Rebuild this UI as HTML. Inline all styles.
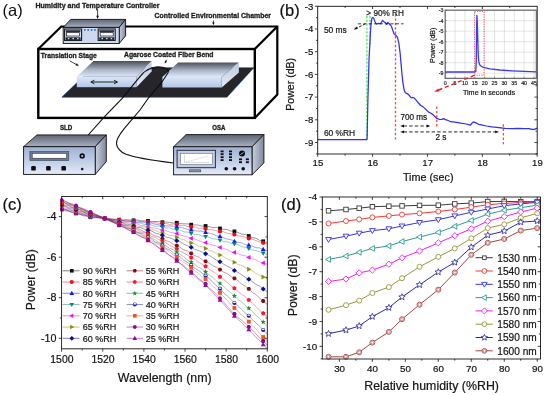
<!DOCTYPE html>
<html lang="en">
<head>
<meta charset="utf-8">
<title>Humidity sensor figure</title>
<style>
html,body{margin:0;padding:0;background:#fff;}
body{width:550px;height:395px;overflow:hidden;font-family:"Liberation Sans", sans-serif;}
svg{display:block;}
svg text{font-family:"Liberation Sans", sans-serif;}
#panel-b text,#panel-c text,#panel-d text{stroke:#141414;stroke-width:0.2px;}
</style>
</head>
<body>
<svg width="550" height="395" viewBox="0 0 550 395">
<defs>
<filter id="soft" x="0" y="0" width="550" height="395" filterUnits="userSpaceOnUse"><feGaussianBlur stdDeviation="0.42"/></filter>
<linearGradient id="gTop" x1="0" y1="0" x2="0" y2="1"><stop offset="0" stop-color="#5d6373"/><stop offset="1" stop-color="#a9b1c3"/></linearGradient>
<linearGradient id="gFront" x1="0" y1="0" x2="0" y2="1"><stop offset="0" stop-color="#9fb0d2"/><stop offset="1" stop-color="#e3eafa"/></linearGradient>
<linearGradient id="gSide" x1="0" y1="0" x2="1" y2="0"><stop offset="0" stop-color="#c9d0e0"/><stop offset="1" stop-color="#7f8799"/></linearGradient>
<linearGradient id="gStageTop" x1="0" y1="0" x2="0" y2="1"><stop offset="0" stop-color="#4a4e58"/><stop offset="0.55" stop-color="#aab4c8"/><stop offset="1" stop-color="#dfe8f8"/></linearGradient>
<linearGradient id="gStageFront" x1="0" y1="0" x2="0" y2="1"><stop offset="0" stop-color="#dbe6fa"/><stop offset="1" stop-color="#b4c6e6"/></linearGradient>
<linearGradient id="gStageSide" x1="0" y1="0" x2="0" y2="1"><stop offset="0" stop-color="#bcc6dc"/><stop offset="1" stop-color="#e4ebfa"/></linearGradient>
</defs>
<rect x="0" y="0" width="550" height="395" fill="#ffffff"/>
<g filter="url(#soft)">
<g id="panel-a">
<text x="2.5" y="16" font-size="16.5" fill="#111">(a)</text>
<polyline points="38.3,49 61.3,26.5 277.3,26.5 277.3,94.6 254.8,117.9" fill="none" stroke="#000" stroke-width="2.2" stroke-linejoin="miter"/>
<line x1="254.8" y1="49" x2="277.3" y2="26.5" stroke="#000" stroke-width="2.2"/>
<polygon points="63.2,27.4 70.8,19.4 125.6,19.4 119.2,27.4" fill="url(#gTop)" stroke="#111" stroke-width="0.9"/>
<polygon points="119.2,27.4 125.6,19.4 125.6,35.8 119.2,43.5" fill="url(#gSide)" stroke="#111" stroke-width="0.9"/>
<rect x="63.2" y="27.4" width="56" height="16.1" fill="#cfd9ee" stroke="#111" stroke-width="0.9"/>
<rect x="64.6" y="29" width="17" height="11.4" fill="#d9e1f2" stroke="#15171c" stroke-width="1.1"/>
<rect x="65.8" y="30.2" width="14.6" height="2" fill="#2a2d35" stroke="none" stroke-width="1"/>
<rect x="66.6" y="32.7" width="13" height="3.3" fill="#ffffff" stroke="#15171c" stroke-width="0.7"/>
<rect x="65.6" y="37.3" width="15" height="2.6" fill="#1b1d23" stroke="none" stroke-width="1"/>
<rect x="67.8" y="37.9" width="1.6" height="1.3" fill="#cfd6e6" stroke="none" stroke-width="1"/>
<rect x="72.4" y="37.9" width="1.6" height="1.3" fill="#cfd6e6" stroke="none" stroke-width="1"/>
<rect x="77" y="37.9" width="1.6" height="1.3" fill="#cfd6e6" stroke="none" stroke-width="1"/>
<rect x="98.2" y="29" width="17" height="11.4" fill="#d9e1f2" stroke="#15171c" stroke-width="1.1"/>
<rect x="99.4" y="30.2" width="14.6" height="2" fill="#2a2d35" stroke="none" stroke-width="1"/>
<rect x="100.2" y="32.7" width="13" height="3.3" fill="#ffffff" stroke="#15171c" stroke-width="0.7"/>
<rect x="99.2" y="37.3" width="15" height="2.6" fill="#1b1d23" stroke="none" stroke-width="1"/>
<rect x="101.4" y="37.9" width="1.6" height="1.3" fill="#cfd6e6" stroke="none" stroke-width="1"/>
<rect x="106" y="37.9" width="1.6" height="1.3" fill="#cfd6e6" stroke="none" stroke-width="1"/>
<rect x="110.6" y="37.9" width="1.6" height="1.3" fill="#cfd6e6" stroke="none" stroke-width="1"/>
<rect x="84.1" y="29" width="1.5" height="1.9" fill="#2f6fc0" stroke="none" stroke-width="1"/>
<rect x="87.45" y="29" width="1.5" height="1.9" fill="#2f6fc0" stroke="none" stroke-width="1"/>
<rect x="90.8" y="29" width="1.5" height="1.9" fill="#2f6fc0" stroke="none" stroke-width="1"/>
<rect x="94.15" y="29" width="1.5" height="1.9" fill="#2f6fc0" stroke="none" stroke-width="1"/>
<text x="35.5" y="7.5" font-size="6.9" font-weight="bold" fill="#1c1c1c" textLength="124" lengthAdjust="spacingAndGlyphs" stroke="#1c1c1c" stroke-width="0.3">Humidity and Temperature Controller</text>
<line x1="97.6" y1="9.4" x2="97.6" y2="17" stroke="#111" stroke-width="0.8"/>
<polygon points="97.6,19 96.3,15.8 98.9,15.8" fill="#111" stroke="none" stroke-width="1"/>
<text x="154.6" y="17.7" font-size="6.9" font-weight="bold" fill="#1c1c1c" textLength="116.4" lengthAdjust="spacingAndGlyphs" stroke="#1c1c1c" stroke-width="0.3">Controlled Environmental Chamber</text>
<line x1="213.4" y1="20.6" x2="213.4" y2="23.4" stroke="#111" stroke-width="0.8"/>
<polygon points="213.4,25.3 212.2,22.5 214.6,22.5" fill="#111" stroke="none" stroke-width="1"/>
<polygon points="61.9,97.2 92.5,67.7 253.9,67.7 227,97.2" fill="#26282c" stroke="#2c5c9c" stroke-width="0.7"/>
<polygon points="62.6,96.6 92.8,68.3 252.8,68.3 226.6,96.6" fill="#25272b" stroke="none" stroke-width="1"/>
<polygon points="162.4,76.9 178.2,62.4 238.9,62.4 221.7,76.9" fill="url(#gStageTop)" stroke="none" stroke-width="1"/>
<polygon points="221.7,76.9 238.9,62.4 238.9,72.6 221.7,87.5" fill="url(#gStageSide)" stroke="none" stroke-width="1"/>
<rect x="162.4" y="76.9" width="59.3" height="10.6" fill="url(#gStageFront)" stroke="none" stroke-width="1"/>
<polygon points="76.8,76.7 93.4,61.1 151.6,61.1 136.4,76.7" fill="url(#gStageTop)" stroke="none" stroke-width="1"/>
<polygon points="136.4,76.7 151.6,61.1 151.6,71.5 136.4,87.2" fill="url(#gStageSide)" stroke="none" stroke-width="1"/>
<rect x="76.8" y="76.7" width="59.6" height="10.5" fill="url(#gStageFront)" stroke="none" stroke-width="1"/>
<line x1="91.4" y1="82" x2="117" y2="82" stroke="#111" stroke-width="0.9"/>
<polyline points="94.4,80.2 90.8,82 94.4,83.8" fill="none" stroke="#111" stroke-width="0.9"/>
<polyline points="114,80.2 117.6,82 114,83.8" fill="none" stroke="#111" stroke-width="0.9"/>
<path d="M 88.2,135 L 105.3,115.9 L 122.2,98.4 L 135.4,82.1 L 140.8,75.6 C 144.5,71.4 147.6,69.6 150.6,68.6 C 155,67.0 162,67.0 166.4,68.8 C 168.4,69.9 168.7,71.4 167.9,73 L 161.8,82.2 L 148.8,97.5 L 140,110 L 124.4,128.3 C 119,135 116,140.5 116.5,143.8 C 117.2,149 121.5,152.3 126,154.3 C 135.5,157.8 152,160.4 173.4,163" fill="none" stroke="#0c0c0c" stroke-width="1.1" stroke-linejoin="round"/>
<path d="M 150.4,68.6 C 155,66.9 162,66.9 166.6,68.9" fill="none" stroke="#1c1d20" stroke-width="1.5"/>
<rect x="38.3" y="49" width="216.5" height="68.9" fill="none" stroke="#000" stroke-width="2.4"/>
<text x="40.8" y="57.6" font-size="6.9" font-weight="bold" fill="#1c1c1c" textLength="56" lengthAdjust="spacingAndGlyphs" stroke="#1c1c1c" stroke-width="0.3">Translation Stage</text>
<line x1="69.6" y1="60.8" x2="76.6" y2="64.6" stroke="#111" stroke-width="0.8"/>
<polygon points="79,65.8 75.56,65.44 76.79,63.15" fill="#111" stroke="none" stroke-width="1"/>
<text x="124" y="57.4" font-size="6.9" font-weight="bold" fill="#1c1c1c" textLength="89.5" lengthAdjust="spacingAndGlyphs" stroke="#1c1c1c" stroke-width="0.3">Agarose Coated Fiber Bend</text>
<line x1="166.8" y1="59.8" x2="165.4" y2="62" stroke="#111" stroke-width="0.8"/>
<polygon points="164.7,63.4 164.97,60.55 167.05,61.76" fill="#111" stroke="none" stroke-width="1"/>
<polygon points="23.6,146.7 37,134.9 106.3,134.9 95.2,146.7" fill="url(#gTop)" stroke="#111" stroke-width="0.9"/>
<polygon points="95.2,146.7 106.3,134.9 106.3,161.6 95.2,174.4" fill="url(#gSide)" stroke="#111" stroke-width="0.9"/>
<rect x="23.6" y="146.7" width="71.6" height="27.7" fill="url(#gFront)" stroke="#111" stroke-width="0.9"/>
<rect x="29.9" y="151.5" width="38.9" height="9" fill="#6f7a92" stroke="#3d4456" stroke-width="0.6"/>
<rect x="32.2" y="153.4" width="34.3" height="4.8" fill="#ffffff" stroke="#222" stroke-width="0.5"/>
<rect x="31.2" y="166" width="4.6" height="4.6" fill="#0e0e10" stroke="none" stroke-width="0" rx="1.2"/>
<rect x="46.1" y="166" width="4.6" height="4.6" fill="#0e0e10" stroke="none" stroke-width="0" rx="1.2"/>
<rect x="61.4" y="166" width="4.6" height="4.6" fill="#0e0e10" stroke="none" stroke-width="0" rx="1.2"/>
<circle cx="82.2" cy="155.9" r="2.7" fill="#111" stroke="none" stroke-width="1"/>
<circle cx="82.2" cy="155.9" r="1" fill="#c9d2e6" stroke="none" stroke-width="1"/>
<circle cx="82.2" cy="169.1" r="1.3" fill="#16161a" stroke="none" stroke-width="1"/>
<text x="59.9" y="129.9" font-size="6.9" font-weight="bold" fill="#1c1c1c" textLength="12.4" lengthAdjust="spacingAndGlyphs" stroke="#1c1c1c" stroke-width="0.3">SLD</text>
<polygon points="173.6,146.8 186.1,134.6 263.9,134.6 252,146.8" fill="url(#gTop)" stroke="#111" stroke-width="0.9"/>
<polygon points="252,146.8 263.9,134.6 263.9,162.9 252,174.8" fill="url(#gSide)" stroke="#111" stroke-width="0.9"/>
<rect x="173.6" y="146.8" width="78.4" height="28" fill="url(#gFront)" stroke="#111" stroke-width="0.9"/>
<rect x="177.1" y="150.3" width="38.3" height="17.4" fill="#c3cce0" stroke="#2a2e3a" stroke-width="1"/>
<rect x="180.5" y="153.5" width="31.8" height="10.8" fill="#ffffff" stroke="#555c6e" stroke-width="0.5"/>
<polyline points="184.5,162.5 184.5,155" fill="none" stroke="#9aa3b5" stroke-width="0.4"/>
<polyline points="184.5,162.5 209,162.5" fill="none" stroke="#9aa3b5" stroke-width="0.4"/>
<polyline points="186,161.8 192,160.6 198,158.8 204,157.2 208.5,155.8" fill="none" stroke="#8d97ab" stroke-width="0.5" stroke-dasharray="1 0.8"/>
<rect x="189.3" y="169.8" width="11.5" height="2.1" fill="#8a93a6" stroke="#30343f" stroke-width="0.5"/>
<rect x="220.6" y="150.5" width="3" height="1.8" fill="#0e0e10" stroke="none" stroke-width="1"/>
<rect x="220.6" y="153.3" width="3" height="1.8" fill="#0e0e10" stroke="none" stroke-width="1"/>
<rect x="220.6" y="156.3" width="3" height="1.8" fill="#0e0e10" stroke="none" stroke-width="1"/>
<rect x="220.6" y="159.2" width="3" height="1.8" fill="#0e0e10" stroke="none" stroke-width="1"/>
<rect x="229" y="150.5" width="3" height="1.8" fill="#0e0e10" stroke="none" stroke-width="1"/>
<rect x="229" y="153.3" width="3" height="1.8" fill="#0e0e10" stroke="none" stroke-width="1"/>
<rect x="229" y="156.3" width="3" height="1.8" fill="#0e0e10" stroke="none" stroke-width="1"/>
<rect x="229" y="159.2" width="3" height="1.8" fill="#0e0e10" stroke="none" stroke-width="1"/>
<rect x="239" y="158.4" width="3" height="1.8" fill="#0e0e10" stroke="none" stroke-width="1"/>
<rect x="239" y="161.3" width="3" height="1.8" fill="#0e0e10" stroke="none" stroke-width="1"/>
<rect x="245.9" y="158.4" width="3" height="1.8" fill="#0e0e10" stroke="none" stroke-width="1"/>
<rect x="245.9" y="161.3" width="3" height="1.8" fill="#0e0e10" stroke="none" stroke-width="1"/>
<circle cx="242" cy="153.5" r="3" fill="#0e0e10" stroke="none" stroke-width="1"/>
<path d="M 240.4,154.6 L 243.6,152.4" fill="none" stroke="#d5dcec" stroke-width="0.8"/>
<circle cx="226.3" cy="168.7" r="1.8" fill="#0e0e10" stroke="none" stroke-width="1"/>
<circle cx="234.6" cy="168.7" r="1.8" fill="#0e0e10" stroke="none" stroke-width="1"/>
<circle cx="243.2" cy="168.7" r="1.8" fill="#0e0e10" stroke="none" stroke-width="1"/>
<text x="212.3" y="130" font-size="6.9" font-weight="bold" fill="#1c1c1c" textLength="13.1" lengthAdjust="spacingAndGlyphs" stroke="#1c1c1c" stroke-width="0.3">OSA</text>
</g>
<g id="panel-b">
<text x="279.6" y="15.8" font-size="16.5" fill="#111">(b)</text>
<line x1="366.8" y1="16" x2="366.8" y2="139.5" stroke="#78f078" stroke-width="1.8" stroke-dasharray="2.2 1.6"/>
<line x1="369.9" y1="16" x2="369.9" y2="46" stroke="#78f078" stroke-width="1.8" stroke-dasharray="2.2 1.6"/>
<line x1="395.5" y1="14" x2="395.5" y2="141" stroke="#f24848" stroke-width="1.3" stroke-dasharray="2.4 2"/>
<line x1="436.8" y1="106.5" x2="436.8" y2="128.5" stroke="#f24848" stroke-width="1.3" stroke-dasharray="2.4 2"/>
<line x1="503.4" y1="124.3" x2="503.4" y2="146" stroke="#f24848" stroke-width="1.3" stroke-dasharray="2.4 2"/>
<polyline points="317.7,139.5 366.6,139.5 367.1,139 367.9,100 369,60 370.2,37 371,24 371.8,18.6 372.8,17.3 373.8,18.4 375,21.8 376.3,24 377.3,23.8 378.2,23.4 379.4,23.7 380.5,23.6 381.2,22.6 382.6,20.4 383.5,21.4 384.5,22.1 385.4,22.6 386.1,23.4 386.8,24.3 387.7,22.5 388.6,23.3 389.6,24.2 390.6,25.2 391.5,26.5 392.8,30.4 394.1,34 395.2,34.8 396,35.3 397.5,37.4 398.8,43.1 400.1,52.9 401,63.1 401.9,73.3 402.9,82.6 404.2,90.3 405.4,92.8 408,94.1 409.6,95.8 411.2,97.9 412.6,97.5 414.1,97.9 416.9,101.1 420.7,105.5 422.8,106.6 424.5,108.1 428.3,111.9 431,113.2 433.4,115.1 436.6,118.3 439.8,119.5 441.8,119.3 443.6,118.6 445.4,119.6 447.4,120.2 450.7,121.7 455,122.1 460.9,123.2 466,124 470.6,125.2 471.6,123.4 473.4,121.9 475.4,122.6 478.7,124.3 482.5,125.2 486.3,126 492,126.9 499,127.6 505,128.3 511.8,128.7 518,128.4 524.5,128.7 529,128.6 532.1,129.4 534.5,129.3 537.2,128.2" fill="none" stroke="#3030f0" stroke-width="1.25" stroke-linejoin="round"/>
<line x1="357.9" y1="23.8" x2="403.6" y2="23.8" stroke="#111" stroke-width="0.8" stroke-dasharray="3.2 2.2"/>
<line x1="365.4" y1="23.8" x2="357" y2="28" stroke="#111" stroke-width="0.9" stroke-dasharray="2.8 1.5"/>
<polygon points="353.8,29.5 356.59,26.57 357.83,29.08" fill="#111" stroke="none" stroke-width="1"/>
<line x1="403.6" y1="126" x2="427" y2="126" stroke="#111" stroke-width="0.9" stroke-dasharray="3.4 2.2"/>
<polygon points="400.2,126 404,124.6 404,127.4" fill="#111" stroke="none" stroke-width="1"/>
<polygon points="430.4,126 426.6,127.4 426.6,124.6" fill="#111" stroke="none" stroke-width="1"/>
<line x1="403.6" y1="131.9" x2="495.6" y2="131.9" stroke="#111" stroke-width="0.9" stroke-dasharray="3.4 2.2"/>
<polygon points="400.2,131.9 404,130.5 404,133.3" fill="#111" stroke="none" stroke-width="1"/>
<polygon points="499,131.9 495.2,133.3 495.2,130.5" fill="#111" stroke="none" stroke-width="1"/>
<text x="366.3" y="15.8" font-size="8.3" fill="#141414" textLength="37.7" lengthAdjust="spacingAndGlyphs">&gt; 90% RH</text>
<text x="323.9" y="32.6" font-size="8.4" fill="#141414" textLength="22.9" lengthAdjust="spacingAndGlyphs">50 ms</text>
<text x="323.9" y="135.7" font-size="8.4" fill="#141414" textLength="31.3" lengthAdjust="spacingAndGlyphs">60 %RH</text>
<text x="400.4" y="120.3" font-size="8.4" fill="#141414" textLength="26.8" lengthAdjust="spacingAndGlyphs">700 ms</text>
<text x="435.4" y="140.3" font-size="8.4" fill="#141414" textLength="11" lengthAdjust="spacingAndGlyphs">2 s</text>
<rect x="317.7" y="6.3" width="219.5" height="147.7" fill="none" stroke="#161616" stroke-width="0.9"/>
<line x1="317.7" y1="6.3" x2="314.9" y2="6.3" stroke="#161616" stroke-width="0.8"/>
<text x="313.4" y="9.6" font-size="9.6" text-anchor="end" fill="#141414">-3</text>
<line x1="317.7" y1="17.65" x2="316" y2="17.65" stroke="#161616" stroke-width="0.8"/>
<line x1="537.2" y1="17.65" x2="535.5" y2="17.65" stroke="#161616" stroke-width="0.8"/>
<line x1="317.7" y1="29" x2="314.9" y2="29" stroke="#161616" stroke-width="0.8"/>
<line x1="537.2" y1="29" x2="534.4" y2="29" stroke="#161616" stroke-width="0.8"/>
<text x="313.4" y="32.3" font-size="9.6" text-anchor="end" fill="#141414">-4</text>
<line x1="317.7" y1="40.35" x2="316" y2="40.35" stroke="#161616" stroke-width="0.8"/>
<line x1="537.2" y1="40.35" x2="535.5" y2="40.35" stroke="#161616" stroke-width="0.8"/>
<line x1="317.7" y1="51.7" x2="314.9" y2="51.7" stroke="#161616" stroke-width="0.8"/>
<line x1="537.2" y1="51.7" x2="534.4" y2="51.7" stroke="#161616" stroke-width="0.8"/>
<text x="313.4" y="55" font-size="9.6" text-anchor="end" fill="#141414">-5</text>
<line x1="317.7" y1="63.05" x2="316" y2="63.05" stroke="#161616" stroke-width="0.8"/>
<line x1="537.2" y1="63.05" x2="535.5" y2="63.05" stroke="#161616" stroke-width="0.8"/>
<line x1="317.7" y1="74.4" x2="314.9" y2="74.4" stroke="#161616" stroke-width="0.8"/>
<line x1="537.2" y1="74.4" x2="534.4" y2="74.4" stroke="#161616" stroke-width="0.8"/>
<text x="313.4" y="77.7" font-size="9.6" text-anchor="end" fill="#141414">-6</text>
<line x1="317.7" y1="85.75" x2="316" y2="85.75" stroke="#161616" stroke-width="0.8"/>
<line x1="537.2" y1="85.75" x2="535.5" y2="85.75" stroke="#161616" stroke-width="0.8"/>
<line x1="317.7" y1="97.1" x2="314.9" y2="97.1" stroke="#161616" stroke-width="0.8"/>
<line x1="537.2" y1="97.1" x2="534.4" y2="97.1" stroke="#161616" stroke-width="0.8"/>
<text x="313.4" y="100.4" font-size="9.6" text-anchor="end" fill="#141414">-7</text>
<line x1="317.7" y1="108.45" x2="316" y2="108.45" stroke="#161616" stroke-width="0.8"/>
<line x1="537.2" y1="108.45" x2="535.5" y2="108.45" stroke="#161616" stroke-width="0.8"/>
<line x1="317.7" y1="119.8" x2="314.9" y2="119.8" stroke="#161616" stroke-width="0.8"/>
<line x1="537.2" y1="119.8" x2="534.4" y2="119.8" stroke="#161616" stroke-width="0.8"/>
<text x="313.4" y="123.1" font-size="9.6" text-anchor="end" fill="#141414">-8</text>
<line x1="317.7" y1="131.15" x2="316" y2="131.15" stroke="#161616" stroke-width="0.8"/>
<line x1="537.2" y1="131.15" x2="535.5" y2="131.15" stroke="#161616" stroke-width="0.8"/>
<line x1="317.7" y1="142.5" x2="314.9" y2="142.5" stroke="#161616" stroke-width="0.8"/>
<line x1="537.2" y1="142.5" x2="534.4" y2="142.5" stroke="#161616" stroke-width="0.8"/>
<text x="313.4" y="145.8" font-size="9.6" text-anchor="end" fill="#141414">-9</text>
<line x1="317.7" y1="153.85" x2="316" y2="153.85" stroke="#161616" stroke-width="0.8"/>
<line x1="537.2" y1="153.85" x2="535.5" y2="153.85" stroke="#161616" stroke-width="0.8"/>
<line x1="317.7" y1="154" x2="317.7" y2="156.8" stroke="#161616" stroke-width="0.8"/>
<text x="317.9" y="166.2" font-size="9.6" text-anchor="middle" fill="#141414">15</text>
<line x1="345.14" y1="154" x2="345.14" y2="155.7" stroke="#161616" stroke-width="0.8"/>
<line x1="345.14" y1="6.3" x2="345.14" y2="8" stroke="#161616" stroke-width="0.8"/>
<line x1="372.57" y1="154" x2="372.57" y2="156.8" stroke="#161616" stroke-width="0.8"/>
<line x1="372.57" y1="6.3" x2="372.57" y2="9.1" stroke="#161616" stroke-width="0.8"/>
<text x="372.77" y="166.2" font-size="9.6" text-anchor="middle" fill="#141414">16</text>
<line x1="400.01" y1="154" x2="400.01" y2="155.7" stroke="#161616" stroke-width="0.8"/>
<line x1="400.01" y1="6.3" x2="400.01" y2="8" stroke="#161616" stroke-width="0.8"/>
<line x1="427.45" y1="154" x2="427.45" y2="156.8" stroke="#161616" stroke-width="0.8"/>
<line x1="427.45" y1="6.3" x2="427.45" y2="9.1" stroke="#161616" stroke-width="0.8"/>
<text x="427.65" y="166.2" font-size="9.6" text-anchor="middle" fill="#141414">17</text>
<line x1="454.89" y1="154" x2="454.89" y2="155.7" stroke="#161616" stroke-width="0.8"/>
<line x1="454.89" y1="6.3" x2="454.89" y2="8" stroke="#161616" stroke-width="0.8"/>
<line x1="482.33" y1="154" x2="482.33" y2="156.8" stroke="#161616" stroke-width="0.8"/>
<line x1="482.33" y1="6.3" x2="482.33" y2="9.1" stroke="#161616" stroke-width="0.8"/>
<text x="482.53" y="166.2" font-size="9.6" text-anchor="middle" fill="#141414">18</text>
<line x1="509.76" y1="154" x2="509.76" y2="155.7" stroke="#161616" stroke-width="0.8"/>
<line x1="509.76" y1="6.3" x2="509.76" y2="8" stroke="#161616" stroke-width="0.8"/>
<line x1="537.2" y1="154" x2="537.2" y2="156.8" stroke="#161616" stroke-width="0.8"/>
<text x="537.4" y="166.2" font-size="9.6" text-anchor="middle" fill="#141414">19</text>
<text x="428.2" y="181.3" font-size="10.8" text-anchor="middle" fill="#141414">Time (sec)</text>
<text x="294" y="84.3" font-size="10.55" text-anchor="middle" fill="#141414" transform="rotate(-90 294 84.3)">Power (dB)</text>
<rect x="445.2" y="10.2" width="91.2" height="68.2" fill="#ffffff" stroke="none" stroke-width="1"/>
<line x1="455.06" y1="10.2" x2="455.06" y2="78.4" stroke="#c9c9c9" stroke-width="0.5"/>
<line x1="464.93" y1="10.2" x2="464.93" y2="78.4" stroke="#c9c9c9" stroke-width="0.5"/>
<line x1="474.8" y1="10.2" x2="474.8" y2="78.4" stroke="#c9c9c9" stroke-width="0.5"/>
<line x1="484.66" y1="10.2" x2="484.66" y2="78.4" stroke="#c9c9c9" stroke-width="0.5"/>
<line x1="494.52" y1="10.2" x2="494.52" y2="78.4" stroke="#c9c9c9" stroke-width="0.5"/>
<line x1="504.39" y1="10.2" x2="504.39" y2="78.4" stroke="#c9c9c9" stroke-width="0.5"/>
<line x1="514.25" y1="10.2" x2="514.25" y2="78.4" stroke="#c9c9c9" stroke-width="0.5"/>
<line x1="524.12" y1="10.2" x2="524.12" y2="78.4" stroke="#c9c9c9" stroke-width="0.5"/>
<line x1="533.99" y1="10.2" x2="533.99" y2="78.4" stroke="#c9c9c9" stroke-width="0.5"/>
<line x1="445.2" y1="20.7" x2="536.4" y2="20.7" stroke="#c9c9c9" stroke-width="0.5"/>
<line x1="445.2" y1="31.2" x2="536.4" y2="31.2" stroke="#c9c9c9" stroke-width="0.5"/>
<line x1="445.2" y1="41.7" x2="536.4" y2="41.7" stroke="#c9c9c9" stroke-width="0.5"/>
<line x1="445.2" y1="52.2" x2="536.4" y2="52.2" stroke="#c9c9c9" stroke-width="0.5"/>
<line x1="445.2" y1="62.7" x2="536.4" y2="62.7" stroke="#c9c9c9" stroke-width="0.5"/>
<line x1="445.2" y1="73.2" x2="536.4" y2="73.2" stroke="#c9c9c9" stroke-width="0.5"/>
<rect x="445.2" y="10.2" width="91.2" height="68.2" fill="none" stroke="#6e6e6e" stroke-width="1.3"/>
<rect x="474.6" y="11.6" width="9.4" height="63.6" fill="none" stroke="#f0343a" stroke-width="0.8" stroke-dasharray="1.2 1.2"/>
<polyline points="445.2,72 474.5,72 475.8,71.6 476.3,60 476.6,30 476.9,15.3 477.3,22 477.8,40 478.3,56 478.9,62.6 480,65.2 482,66.8 484.6,67.6 490,68.9 500,70 512,70.8 524,71.4 536.4,71.8" fill="none" stroke="#3a3af2" stroke-width="1.3" stroke-linejoin="round"/>
<line x1="445.2" y1="10.2" x2="446.8" y2="10.2" stroke="#555" stroke-width="0.6"/>
<text x="443.4" y="12.2" font-size="5.3" text-anchor="end" fill="#333">-3</text>
<line x1="445.2" y1="20.7" x2="446.8" y2="20.7" stroke="#555" stroke-width="0.6"/>
<text x="443.4" y="22.7" font-size="5.3" text-anchor="end" fill="#333">-4</text>
<line x1="445.2" y1="31.2" x2="446.8" y2="31.2" stroke="#555" stroke-width="0.6"/>
<text x="443.4" y="33.2" font-size="5.3" text-anchor="end" fill="#333">-5</text>
<line x1="445.2" y1="41.7" x2="446.8" y2="41.7" stroke="#555" stroke-width="0.6"/>
<text x="443.4" y="43.7" font-size="5.3" text-anchor="end" fill="#333">-6</text>
<line x1="445.2" y1="52.2" x2="446.8" y2="52.2" stroke="#555" stroke-width="0.6"/>
<text x="443.4" y="54.2" font-size="5.3" text-anchor="end" fill="#333">-7</text>
<line x1="445.2" y1="62.7" x2="446.8" y2="62.7" stroke="#555" stroke-width="0.6"/>
<text x="443.4" y="64.7" font-size="5.3" text-anchor="end" fill="#333">-8</text>
<line x1="445.2" y1="73.2" x2="446.8" y2="73.2" stroke="#555" stroke-width="0.6"/>
<text x="443.4" y="75.2" font-size="5.3" text-anchor="end" fill="#333">-9</text>
<line x1="445.2" y1="78.4" x2="445.2" y2="76.8" stroke="#555" stroke-width="0.6"/>
<text x="445.2" y="85.3" font-size="5.3" text-anchor="middle" fill="#333">0</text>
<line x1="455.06" y1="78.4" x2="455.06" y2="76.8" stroke="#555" stroke-width="0.6"/>
<text x="455.06" y="85.3" font-size="5.3" text-anchor="middle" fill="#333">5</text>
<line x1="464.93" y1="78.4" x2="464.93" y2="76.8" stroke="#555" stroke-width="0.6"/>
<text x="464.93" y="85.3" font-size="5.3" text-anchor="middle" fill="#333">10</text>
<line x1="474.8" y1="78.4" x2="474.8" y2="76.8" stroke="#555" stroke-width="0.6"/>
<text x="474.8" y="85.3" font-size="5.3" text-anchor="middle" fill="#333">15</text>
<line x1="484.66" y1="78.4" x2="484.66" y2="76.8" stroke="#555" stroke-width="0.6"/>
<text x="484.66" y="85.3" font-size="5.3" text-anchor="middle" fill="#333">20</text>
<line x1="494.52" y1="78.4" x2="494.52" y2="76.8" stroke="#555" stroke-width="0.6"/>
<text x="494.52" y="85.3" font-size="5.3" text-anchor="middle" fill="#333">25</text>
<line x1="504.39" y1="78.4" x2="504.39" y2="76.8" stroke="#555" stroke-width="0.6"/>
<text x="504.39" y="85.3" font-size="5.3" text-anchor="middle" fill="#333">30</text>
<line x1="514.25" y1="78.4" x2="514.25" y2="76.8" stroke="#555" stroke-width="0.6"/>
<text x="514.25" y="85.3" font-size="5.3" text-anchor="middle" fill="#333">35</text>
<line x1="524.12" y1="78.4" x2="524.12" y2="76.8" stroke="#555" stroke-width="0.6"/>
<text x="524.12" y="85.3" font-size="5.3" text-anchor="middle" fill="#333">40</text>
<line x1="533.99" y1="78.4" x2="533.99" y2="76.8" stroke="#555" stroke-width="0.6"/>
<text x="533.99" y="85.3" font-size="5.3" text-anchor="middle" fill="#333">45</text>
<text x="489" y="95.4" font-size="7.2" text-anchor="middle" fill="#141414" textLength="52.2" lengthAdjust="spacingAndGlyphs">Time in seconds</text>
<text x="434.6" y="45.3" font-size="7.1" text-anchor="middle" fill="#141414" transform="rotate(-90 434.6 45.3)" textLength="35.6" lengthAdjust="spacingAndGlyphs">Power (dB)</text>
<line x1="474.6" y1="75.2" x2="438.6" y2="90" stroke="#ee1c24" stroke-width="1.4" stroke-dasharray="4.2 2.8"/>
<polygon points="434.2,91.8 438.22,88.42 439.43,91.38" fill="#ee1c24" stroke="none" stroke-width="1"/>
</g>
<g id="panel-c">
<text x="2.5" y="210" font-size="16.5" fill="#111">(c)</text>
<clipPath id="clipc"><rect x="60.4" y="196.5" width="207.9" height="152.3"/></clipPath>
<g clip-path="url(#clipc)">
<polyline points="61.6,209.5 65.2,210.81 68.8,211 72.4,212.69 76,213.4 79.6,213.96 83.2,215.72 86.8,216.08 90.4,217.2 94,217.93 97.6,217.42 101.2,218.17 104.8,218.4 108.4,218.28 112,219.37 115.6,219.4 119.2,219.7 122.8,220.29 126.4,219.76 130,220.02 133.59,220.3 137.19,220.03 140.79,220.75 144.39,220.97 147.99,220.9 151.59,221.59 155.19,221.5 158.79,221.57 162.39,222.2 165.99,222.05 169.59,222.45 173.19,223.02 176.79,222.8 180.39,223.49 183.99,223.9 187.59,223.81 191.19,224.7 194.79,224.9 198.39,225.11 201.99,226.12 205.59,226 209.19,226.65 212.79,227.57 216.39,227.43 219.99,228.5 223.59,229.3 227.19,229.57 230.79,231.11 234.39,231.4 237.99,232.38 241.59,234.13 245.19,234.46 248.79,236 252.39,237.59 255.99,238.2 259.59,240.31 263.19,241.3 267.3,242.81" fill="none" stroke="#101010" stroke-width="0.55" stroke-opacity="0.72" stroke-linejoin="round"/>
<polyline points="61.6,209.07 65.2,209.72 68.8,211.07 72.4,212.38 76,213.05 79.6,214.3 83.2,215.1 86.8,215.6 90.4,216.97 94,217.15 97.6,217.5 101.2,218.47 104.8,218.4 108.4,218.87 112,219.45 115.6,219.12 119.2,219.96 122.8,220.2 126.4,220.06 130,221.07 133.59,220.85 137.19,220.97 140.79,221.73 144.39,221.14 147.99,221.8 151.59,222.43 155.19,222.2 158.79,223.43 162.39,223.47 165.99,223.45 169.59,224.46 173.19,223.97 176.79,224.54 180.39,225.49 183.99,225.28 187.59,226.53 191.19,226.9 194.79,226.94 198.39,228.21 201.99,228.12 205.59,228.7 209.19,229.83 212.79,229.71 216.39,230.78 219.99,231.44 223.59,231.75 227.19,233.25 230.79,233.8 234.39,234.5 237.99,235.91 241.59,236.25 245.19,237.25 248.79,238.39 252.39,239.1 255.99,240.7 259.59,241.95 263.19,242.8 267.3,244.06" fill="none" stroke="#f01018" stroke-width="0.55" stroke-opacity="0.72" stroke-linejoin="round"/>
<polyline points="61.6,208.51 65.2,209.28 68.8,211 72.4,211.23 76,212.59 79.6,213.94 83.2,214.18 86.8,215.92 90.4,216.67 94,216.71 97.6,217.96 101.2,217.78 104.8,218.4 108.4,219.3 112,218.96 115.6,219.91 119.2,220.3 122.8,220.16 126.4,221.26 130,221.26 133.59,221.57 137.19,222.36 140.79,222.01 144.39,222.5 147.99,222.96 151.59,223.08 155.19,224.21 158.79,224.79 162.39,225.13 165.99,225.92 169.59,225.9 173.19,226.09 176.79,226.79 180.39,227.22 183.99,228.24 187.59,229.37 191.19,229.75 194.79,230.59 198.39,231.11 201.99,231.18 205.59,232.2 209.19,233.12 212.79,234.08 216.39,235.81 219.99,236.42 223.59,237.68 227.19,239.17 230.79,239.63 234.39,241.3 237.99,242.32 241.59,242.85 245.19,244.62 248.79,245.14 252.39,246.04 255.99,247.69 259.59,247.94 263.19,249.4 267.3,250.62" fill="none" stroke="#1818e8" stroke-width="0.55" stroke-opacity="0.72" stroke-linejoin="round"/>
<polyline points="61.6,207.8 65.2,209.26 68.8,209.79 72.4,210.73 76,212.02 79.6,212.74 83.2,214.18 86.8,215.54 90.4,216.29 94,217.09 97.6,217.42 101.2,217.49 104.8,218.4 108.4,218.79 112,219.38 115.6,220.56 119.2,220.72 122.8,221.25 126.4,221.85 130,221.58 133.59,222.46 137.19,222.96 140.79,223.1 144.39,224.38 147.99,224.42 151.59,225.01 155.19,226.21 158.79,226.09 162.39,227.21 165.99,228.01 169.59,227.98 173.19,229.4 176.79,229.63 180.39,230.27 183.99,231.93 187.59,232.09 191.19,233.33 194.79,234.5 198.39,234.52 201.99,236.02 205.59,236.6 209.19,237.1 212.79,238.82 216.39,239.17 219.99,240.21 223.59,241.6 227.19,241.74 230.79,243.1 234.39,244 237.99,244.64 241.59,246.47 245.19,247.32 248.79,248.35 252.39,250 255.99,250.56 259.59,251.84 263.19,253.2 267.3,254.58" fill="none" stroke="#108080" stroke-width="0.55" stroke-opacity="0.72" stroke-linejoin="round"/>
<polyline points="61.6,206.82 65.2,208.07 68.8,208.61 72.4,210.54 76,211.23 79.6,212.13 83.2,213.94 86.8,214.28 90.4,215.76 94,216.74 97.6,216.63 101.2,218.03 104.8,218.4 108.4,218.75 112,220.29 115.6,220.38 119.2,221.31 122.8,222.33 126.4,222.11 130,223.21 133.59,223.71 137.19,223.95 140.79,225.42 144.39,225.76 147.99,226.45 151.59,227.8 155.19,228 158.79,229.08 162.39,230.09 165.99,230.53 169.59,232 173.19,232.88 176.79,233.56 180.39,235.13 183.99,235.85 187.59,236.84 191.19,238.3 194.79,239.08 198.39,240.48 201.99,241.95 205.59,242.7 209.19,244.13 212.79,245.19 216.39,245.85 219.99,247.44 223.59,248.53 227.19,249.71 230.79,251.6 234.39,252.4 237.99,253.7 241.59,255.19 245.19,255.69 248.79,257.39 252.39,258.81 255.99,259.78 259.59,261.96 263.19,262.9 267.3,264.47" fill="none" stroke="#f010f0" stroke-width="0.55" stroke-opacity="0.72" stroke-linejoin="round"/>
<polyline points="61.6,205.91 65.2,206.62 68.8,208.43 72.4,209.48 76,210.49 79.6,212.1 83.2,212.75 86.8,213.85 90.4,215.27 94,215.7 97.6,216.87 101.2,217.93 104.8,218.4 108.4,219.55 112,220.19 115.6,220.62 119.2,221.85 122.8,222.4 126.4,223.2 130,224.54 133.59,224.87 137.19,225.85 140.79,226.86 144.39,227.03 147.99,228.34 151.59,229.44 155.19,230.23 158.79,232.12 162.39,232.78 165.99,233.8 169.59,235.39 173.19,235.69 176.79,237.23 180.39,238.84 183.99,239.66 187.59,241.9 191.19,242.94 194.79,244.04 198.39,246.12 201.99,246.71 205.59,248.4 209.19,250.41 212.79,251.29 216.39,253.65 219.99,255.06 223.59,256.47 227.19,259.1 230.79,260.33 234.39,262.3 237.99,264.47 241.59,265.4 245.19,267.57 248.79,269.25 252.39,270.74 255.99,273.43 259.59,275.1 263.19,277 267.3,279.21" fill="none" stroke="#8a8a10" stroke-width="0.55" stroke-opacity="0.72" stroke-linejoin="round"/>
<polyline points="61.6,205.05 65.2,206.2 68.8,207.77 72.4,208.16 76,209.79 79.6,211.17 83.2,211.89 86.8,213.97 90.4,214.81 94,215.48 97.6,217.04 101.2,217.14 104.8,218.4 108.4,219.7 112,219.94 115.6,221.68 119.2,222.37 122.8,222.9 126.4,224.61 130,224.86 133.59,225.97 137.19,227.43 140.79,227.65 144.39,229.21 147.99,230.14 151.59,230.99 155.19,233.08 158.79,234.01 162.39,235.33 165.99,237.12 169.59,237.74 173.19,239.28 176.79,240.71 180.39,241.94 183.99,244.22 187.59,245.86 191.19,247.34 194.79,249.35 198.39,250.48 201.99,251.92 205.59,253.8 209.19,255.45 212.79,257.76 216.39,260.09 219.99,261.74 223.59,264.16 227.19,266.18 230.79,267.84 234.39,270.4 237.99,272.42 241.59,274.58 245.19,277.4 248.79,279.16 252.39,281.69 255.99,284.37 259.59,286.09 263.19,289 267.3,291.81" fill="none" stroke="#101088" stroke-width="0.55" stroke-opacity="0.72" stroke-linejoin="round"/>
<polyline points="61.6,203.84 65.2,205.54 68.8,206.01 72.4,207.55 76,208.82 79.6,209.71 83.2,211.73 86.8,212.95 90.4,214.16 94,215.64 97.6,216.13 101.2,217.13 104.8,218.4 108.4,219.2 112,220.8 115.6,222.22 119.2,223.09 122.8,224.5 126.4,225.35 130,226.03 133.59,227.5 137.19,228.56 140.79,229.92 144.39,231.76 147.99,232.63 151.59,234.31 155.19,235.99 158.79,236.86 162.39,238.87 165.99,240.51 169.59,241.89 173.19,244.32 176.79,245.54 180.39,247.44 183.99,249.88 187.59,251.04 191.19,253.45 194.79,255.58 198.39,256.95 201.99,259.73 205.59,261.3 209.19,263.12 212.79,265.9 216.39,267.19 219.99,269.6 223.59,272.11 227.19,273.5 230.79,276.39 234.39,278.3 237.99,280.57 241.59,284.06 245.19,286.12 248.79,288.96 252.39,292.4 255.99,294.6 259.59,298.07 263.19,301 267.3,304.44" fill="none" stroke="#801018" stroke-width="0.55" stroke-opacity="0.72" stroke-linejoin="round"/>
<polyline points="61.6,203.04 65.2,204.24 68.8,205.33 72.4,207.33 76,208.17 79.6,209.54 83.2,211.3 86.8,211.9 90.4,213.73 94,215.02 97.6,215.67 101.2,217.65 104.8,218.4 108.4,219.48 112,221.42 115.6,221.91 119.2,223.57 122.8,225.1 126.4,225.6 130,227.59 133.59,228.52 137.19,229.6 140.79,231.85 144.39,232.62 147.99,234.29 151.59,236.44 155.19,237.35 158.79,239.63 162.39,241.23 165.99,242.67 169.59,245.35 173.19,246.84 176.79,248.76 180.39,251.4 183.99,252.85 187.59,255.27 191.19,257.52 194.79,259.28 198.39,262.12 201.99,264.27 205.59,266.3 209.19,269.32 212.79,271.44 216.39,273.92 219.99,276.8 223.59,279.31 227.19,282.51 230.79,285.68 234.39,288.2 237.99,291.42 241.59,294.19 245.19,296.66 248.79,300 252.39,303.15 255.99,306.46 259.59,310.41 263.19,313.3 267.3,317.1" fill="none" stroke="#f81838" stroke-width="0.55" stroke-opacity="0.72" stroke-linejoin="round"/>
<polyline points="61.6,202.16 65.2,203.06 68.8,205.2 72.4,206.04 76,207.45 79.6,209.35 83.2,210.03 86.8,211.8 90.4,213.26 94,214.1 97.6,216.08 101.2,217.22 104.8,218.4 108.4,220.25 112,221.09 115.6,222.47 119.2,224.1 122.8,225.11 126.4,226.94 130,228.55 133.59,229.65 137.19,231.58 140.79,232.91 144.39,234.14 147.99,236.12 151.59,237.81 155.19,239.84 158.79,242.31 162.39,243.83 165.99,246.09 169.59,248.29 173.19,249.74 176.79,252.3 180.39,254.69 183.99,256.85 187.59,260.03 191.19,262 194.79,264.39 198.39,267.27 201.99,268.91 205.59,271.8 209.19,274.86 212.79,277.19 216.39,280.91 219.99,283.41 223.59,286.31 227.19,290.15 230.79,292.51 234.39,296 237.99,299.39 241.59,301.68 245.19,305.46 248.79,308.26 252.39,311.31 255.99,315.56 259.59,318.38 263.19,322 267.3,325.93" fill="none" stroke="#18902c" stroke-width="0.55" stroke-opacity="0.72" stroke-linejoin="round"/>
<polyline points="61.6,201.54 65.2,203.09 68.8,204.41 72.4,205.17 76,206.95 79.6,208.34 83.2,209.68 86.8,211.88 90.4,212.93 94,214.29 97.6,216 101.2,216.58 104.8,218.4 108.4,220.02 112,221.04 115.6,223.38 119.2,224.48 122.8,225.77 126.4,227.89 130,228.57 133.59,230.44 137.19,232.46 140.79,233.48 144.39,235.99 147.99,237.41 151.59,239.12 155.19,241.98 158.79,243.36 162.39,245.67 165.99,248.36 169.59,249.83 173.19,252.68 176.79,254.82 180.39,256.97 183.99,260.36 187.59,262.54 191.19,265.18 194.79,268.26 198.39,270.14 201.99,273.02 205.59,275.7 209.19,278.52 212.79,282.43 216.39,285.61 219.99,288.72 223.59,292.69 227.19,295.74 230.79,299.19 234.39,303 237.99,305.84 241.59,309.4 245.19,312.88 248.79,315.75 252.39,319.59 255.99,322.95 259.59,326.06 263.19,330 267.3,334.07" fill="none" stroke="#1c2098" stroke-width="0.55" stroke-opacity="0.72" stroke-linejoin="round"/>
<polyline points="61.6,201.01 65.2,202.76 68.8,203.33 72.4,205.34 76,206.52 79.6,207.63 83.2,209.98 86.8,211 90.4,212.64 94,214.53 97.6,215.18 101.2,216.97 104.8,218.4 108.4,219.55 112,221.86 115.6,223.29 119.2,224.79 122.8,226.8 126.4,227.78 130,229.35 133.59,231.11 137.19,232.58 140.79,234.89 144.39,236.93 147.99,238.51 151.59,241.01 155.19,242.88 158.79,244.7 162.39,247.23 165.99,249.41 169.59,251.97 173.19,254.91 176.79,256.94 180.39,259.83 183.99,262.62 187.59,264.7 191.19,267.87 194.79,270.59 198.39,273.14 201.99,276.67 205.59,279 209.19,282.41 212.79,286.27 216.39,288.93 219.99,292.82 223.59,296.76 227.19,300 230.79,304.61 234.39,308 237.99,311.19 241.59,315.28 245.19,317.91 248.79,321.68 252.39,325.83 255.99,328.89 259.59,333.46 263.19,337 267.3,341.38" fill="none" stroke="#f85020" stroke-width="0.55" stroke-opacity="0.72" stroke-linejoin="round"/>
<polyline points="61.6,200.21 65.2,201.33 68.8,202.98 72.4,204.83 76,205.87 79.6,207.66 83.2,209.2 86.8,210.21 90.4,212.21 94,213.64 97.6,215.06 101.2,217.3 104.8,218.4 108.4,220.13 112,222.16 115.6,223.11 119.2,225.28 122.8,227.08 126.4,228.32 130,230.85 133.59,232.13 137.19,233.96 140.79,236.58 144.39,237.77 147.99,240.17 151.59,242.79 155.19,244.43 158.79,247.56 162.39,249.59 165.99,251.89 169.59,255.32 173.19,257.27 176.79,260.16 180.39,263.51 183.99,265.63 187.59,269.16 191.19,271.94 194.79,274.52 198.39,278.35 201.99,280.92 205.59,284 209.19,288.04 212.79,290.88 216.39,294.74 219.99,298.37 223.59,301.84 227.19,306.42 230.79,310.23 234.39,314 237.99,317.61 241.59,320.27 245.19,323.38 248.79,326.81 252.39,330 255.99,333.94 259.59,337.76 263.19,341 267.3,345.05" fill="none" stroke="#800888" stroke-width="0.55" stroke-opacity="0.72" stroke-linejoin="round"/>
<polyline points="61.6,200 65.2,201.12 68.8,203.3 72.4,203.98 76,205.7 79.6,207.67 83.2,208.46 86.8,210.72 90.4,212.1 94,213.26 97.6,215.65 101.2,216.7 104.8,218.4 108.4,220.59 112,221.55 115.6,223.67 119.2,225.4 122.8,226.7 126.4,229.18 130,230.73 133.59,232.4 137.19,234.88 140.79,236.31 144.39,238.38 147.99,240.6 151.59,242.61 155.19,245.5 158.79,248.06 162.39,250.2 165.99,253.23 169.59,255.6 173.19,257.96 176.79,261 180.39,263.74 183.99,266.9 187.59,270.4 191.19,273 194.79,276.24 198.39,279.35 201.99,281.79 205.59,285.3 209.19,288.9 212.79,292.37 216.39,296.77 219.99,300 223.59,303.97 227.19,308.35 230.79,311.56 234.39,316 237.99,319.5 241.59,322.34 245.19,326.54 248.79,329.5 252.39,333.03 255.99,337.44 259.59,340.39 263.19,344.5 267.3,348.79" fill="none" stroke="#901090" stroke-width="0.55" stroke-opacity="0.72" stroke-linejoin="round"/>
<rect x="59.71" y="207.61" width="3.78" height="3.78" fill="#101010" stroke="none" stroke-width="1"/>
<rect x="74.11" y="211.51" width="3.78" height="3.78" fill="#101010" stroke="none" stroke-width="1"/>
<rect x="88.51" y="215.31" width="3.78" height="3.78" fill="#101010" stroke="none" stroke-width="1"/>
<rect x="102.91" y="216.51" width="3.78" height="3.78" fill="#101010" stroke="none" stroke-width="1"/>
<rect x="117.31" y="217.81" width="3.78" height="3.78" fill="#101010" stroke="none" stroke-width="1"/>
<rect x="131.71" y="218.41" width="3.78" height="3.78" fill="#101010" stroke="none" stroke-width="1"/>
<rect x="146.1" y="219.01" width="3.78" height="3.78" fill="#101010" stroke="none" stroke-width="1"/>
<rect x="160.5" y="220.31" width="3.78" height="3.78" fill="#101010" stroke="none" stroke-width="1"/>
<rect x="174.9" y="220.91" width="3.78" height="3.78" fill="#101010" stroke="none" stroke-width="1"/>
<rect x="189.3" y="222.81" width="3.78" height="3.78" fill="#101010" stroke="none" stroke-width="1"/>
<rect x="203.7" y="224.11" width="3.78" height="3.78" fill="#101010" stroke="none" stroke-width="1"/>
<rect x="218.1" y="226.61" width="3.78" height="3.78" fill="#101010" stroke="none" stroke-width="1"/>
<rect x="232.5" y="229.51" width="3.78" height="3.78" fill="#101010" stroke="none" stroke-width="1"/>
<rect x="246.9" y="234.11" width="3.78" height="3.78" fill="#101010" stroke="none" stroke-width="1"/>
<rect x="261.3" y="239.41" width="3.78" height="3.78" fill="#101010" stroke="none" stroke-width="1"/>
<circle cx="61.6" cy="209.07" r="2.1" fill="#f01018" stroke="none" stroke-width="1"/>
<circle cx="76" cy="213.05" r="2.1" fill="#f01018" stroke="none" stroke-width="1"/>
<circle cx="90.4" cy="216.97" r="2.1" fill="#f01018" stroke="none" stroke-width="1"/>
<circle cx="104.8" cy="218.4" r="2.1" fill="#f01018" stroke="none" stroke-width="1"/>
<circle cx="119.2" cy="219.96" r="2.1" fill="#f01018" stroke="none" stroke-width="1"/>
<circle cx="133.59" cy="220.85" r="2.1" fill="#f01018" stroke="none" stroke-width="1"/>
<circle cx="147.99" cy="221.8" r="2.1" fill="#f01018" stroke="none" stroke-width="1"/>
<circle cx="162.39" cy="223.47" r="2.1" fill="#f01018" stroke="none" stroke-width="1"/>
<circle cx="176.79" cy="224.54" r="2.1" fill="#f01018" stroke="none" stroke-width="1"/>
<circle cx="191.19" cy="226.9" r="2.1" fill="#f01018" stroke="none" stroke-width="1"/>
<circle cx="205.59" cy="228.7" r="2.1" fill="#f01018" stroke="none" stroke-width="1"/>
<circle cx="219.99" cy="231.44" r="2.1" fill="#f01018" stroke="none" stroke-width="1"/>
<circle cx="234.39" cy="234.5" r="2.1" fill="#f01018" stroke="none" stroke-width="1"/>
<circle cx="248.79" cy="238.39" r="2.1" fill="#f01018" stroke="none" stroke-width="1"/>
<circle cx="263.19" cy="242.8" r="2.1" fill="#f01018" stroke="none" stroke-width="1"/>
<polygon points="61.6,205.88 64.02,210.19 59.19,210.19" fill="#1818e8" stroke="none" stroke-width="1"/>
<polygon points="76,209.97 78.41,214.27 73.58,214.27" fill="#1818e8" stroke="none" stroke-width="1"/>
<polygon points="90.4,214.04 92.81,218.35 87.98,218.35" fill="#1818e8" stroke="none" stroke-width="1"/>
<polygon points="104.8,215.78 107.21,220.08 102.38,220.08" fill="#1818e8" stroke="none" stroke-width="1"/>
<polygon points="119.2,217.67 121.61,221.98 116.78,221.98" fill="#1818e8" stroke="none" stroke-width="1"/>
<polygon points="133.59,218.94 136.01,223.25 131.18,223.25" fill="#1818e8" stroke="none" stroke-width="1"/>
<polygon points="147.99,220.33 150.41,224.64 145.58,224.64" fill="#1818e8" stroke="none" stroke-width="1"/>
<polygon points="162.39,222.5 164.81,226.81 159.98,226.81" fill="#1818e8" stroke="none" stroke-width="1"/>
<polygon points="176.79,224.17 179.21,228.47 174.38,228.47" fill="#1818e8" stroke="none" stroke-width="1"/>
<polygon points="191.19,227.12 193.61,231.43 188.78,231.43" fill="#1818e8" stroke="none" stroke-width="1"/>
<polygon points="205.59,229.57 208,233.88 203.18,233.88" fill="#1818e8" stroke="none" stroke-width="1"/>
<polygon points="219.99,233.8 222.4,238.1 217.57,238.1" fill="#1818e8" stroke="none" stroke-width="1"/>
<polygon points="234.39,238.68 236.8,242.98 231.97,242.98" fill="#1818e8" stroke="none" stroke-width="1"/>
<polygon points="248.79,242.52 251.2,246.82 246.37,246.82" fill="#1818e8" stroke="none" stroke-width="1"/>
<polygon points="263.19,246.78 265.6,251.08 260.77,251.08" fill="#1818e8" stroke="none" stroke-width="1"/>
<polygon points="61.6,210.43 64.02,206.12 59.19,206.12" fill="#108080" stroke="none" stroke-width="1"/>
<polygon points="76,214.65 78.41,210.34 73.58,210.34" fill="#108080" stroke="none" stroke-width="1"/>
<polygon points="90.4,218.91 92.81,214.61 87.98,214.61" fill="#108080" stroke="none" stroke-width="1"/>
<polygon points="104.8,221.03 107.21,216.72 102.38,216.72" fill="#108080" stroke="none" stroke-width="1"/>
<polygon points="119.2,223.34 121.61,219.04 116.78,219.04" fill="#108080" stroke="none" stroke-width="1"/>
<polygon points="133.59,225.09 136.01,220.78 131.18,220.78" fill="#108080" stroke="none" stroke-width="1"/>
<polygon points="147.99,227.05 150.41,222.74 145.58,222.74" fill="#108080" stroke="none" stroke-width="1"/>
<polygon points="162.39,229.83 164.81,225.53 159.98,225.53" fill="#108080" stroke="none" stroke-width="1"/>
<polygon points="176.79,232.25 179.21,227.95 174.38,227.95" fill="#108080" stroke="none" stroke-width="1"/>
<polygon points="191.19,235.96 193.61,231.65 188.78,231.65" fill="#108080" stroke="none" stroke-width="1"/>
<polygon points="205.59,239.22 208,234.92 203.18,234.92" fill="#108080" stroke="none" stroke-width="1"/>
<polygon points="219.99,242.84 222.4,238.53 217.57,238.53" fill="#108080" stroke="none" stroke-width="1"/>
<polygon points="234.39,246.62 236.8,242.32 231.97,242.32" fill="#108080" stroke="none" stroke-width="1"/>
<polygon points="248.79,250.98 251.2,246.67 246.37,246.67" fill="#108080" stroke="none" stroke-width="1"/>
<polygon points="263.19,255.82 265.6,251.52 260.77,251.52" fill="#108080" stroke="none" stroke-width="1"/>
<polygon points="58.98,206.82 63.28,204.41 63.28,209.24" fill="#f010f0" stroke="none" stroke-width="1"/>
<polygon points="73.37,211.23 77.68,208.82 77.68,213.65" fill="#f010f0" stroke="none" stroke-width="1"/>
<polygon points="87.77,215.76 92.08,213.35 92.08,218.18" fill="#f010f0" stroke="none" stroke-width="1"/>
<polygon points="102.17,218.4 106.48,215.99 106.48,220.81" fill="#f010f0" stroke="none" stroke-width="1"/>
<polygon points="116.57,221.31 120.88,218.89 120.88,223.72" fill="#f010f0" stroke="none" stroke-width="1"/>
<polygon points="130.97,223.71 135.28,221.29 135.28,226.12" fill="#f010f0" stroke="none" stroke-width="1"/>
<polygon points="145.37,226.45 149.67,224.03 149.67,228.86" fill="#f010f0" stroke="none" stroke-width="1"/>
<polygon points="159.77,230.09 164.07,227.67 164.07,232.5" fill="#f010f0" stroke="none" stroke-width="1"/>
<polygon points="174.17,233.56 178.47,231.14 178.47,235.97" fill="#f010f0" stroke="none" stroke-width="1"/>
<polygon points="188.57,238.3 192.87,235.89 192.87,240.72" fill="#f010f0" stroke="none" stroke-width="1"/>
<polygon points="202.97,242.7 207.27,240.28 207.27,245.11" fill="#f010f0" stroke="none" stroke-width="1"/>
<polygon points="217.36,247.44 221.67,245.03 221.67,249.86" fill="#f010f0" stroke="none" stroke-width="1"/>
<polygon points="231.76,252.4 236.07,249.99 236.07,254.81" fill="#f010f0" stroke="none" stroke-width="1"/>
<polygon points="246.16,257.39 250.47,254.97 250.47,259.8" fill="#f010f0" stroke="none" stroke-width="1"/>
<polygon points="260.56,262.9 264.87,260.48 264.87,265.31" fill="#f010f0" stroke="none" stroke-width="1"/>
<polygon points="64.22,205.91 59.92,203.5 59.92,208.33" fill="#8a8a10" stroke="none" stroke-width="1"/>
<polygon points="78.62,210.49 74.32,208.08 74.32,212.91" fill="#8a8a10" stroke="none" stroke-width="1"/>
<polygon points="93.02,215.27 88.72,212.86 88.72,217.69" fill="#8a8a10" stroke="none" stroke-width="1"/>
<polygon points="107.42,218.4 103.12,215.99 103.12,220.81" fill="#8a8a10" stroke="none" stroke-width="1"/>
<polygon points="121.82,221.85 117.52,219.44 117.52,224.27" fill="#8a8a10" stroke="none" stroke-width="1"/>
<polygon points="136.22,224.87 131.91,222.46 131.91,227.29" fill="#8a8a10" stroke="none" stroke-width="1"/>
<polygon points="150.62,228.34 146.31,225.93 146.31,230.76" fill="#8a8a10" stroke="none" stroke-width="1"/>
<polygon points="165.02,232.78 160.71,230.36 160.71,235.19" fill="#8a8a10" stroke="none" stroke-width="1"/>
<polygon points="179.42,237.23 175.11,234.81 175.11,239.64" fill="#8a8a10" stroke="none" stroke-width="1"/>
<polygon points="193.82,242.94 189.51,240.53 189.51,245.36" fill="#8a8a10" stroke="none" stroke-width="1"/>
<polygon points="208.22,248.4 203.91,245.99 203.91,250.81" fill="#8a8a10" stroke="none" stroke-width="1"/>
<polygon points="222.61,255.06 218.31,252.65 218.31,257.48" fill="#8a8a10" stroke="none" stroke-width="1"/>
<polygon points="237.01,262.3 232.71,259.88 232.71,264.72" fill="#8a8a10" stroke="none" stroke-width="1"/>
<polygon points="251.41,269.25 247.11,266.83 247.11,271.66" fill="#8a8a10" stroke="none" stroke-width="1"/>
<polygon points="265.81,277 261.51,274.58 261.51,279.42" fill="#8a8a10" stroke="none" stroke-width="1"/>
<polygon points="61.6,202.53 64.12,205.05 61.6,207.57 59.08,205.05" fill="#101088" stroke="none" stroke-width="1"/>
<polygon points="76,207.27 78.52,209.79 76,212.31 73.48,209.79" fill="#101088" stroke="none" stroke-width="1"/>
<polygon points="90.4,212.29 92.92,214.81 90.4,217.33 87.88,214.81" fill="#101088" stroke="none" stroke-width="1"/>
<polygon points="104.8,215.88 107.32,218.4 104.8,220.92 102.28,218.4" fill="#101088" stroke="none" stroke-width="1"/>
<polygon points="119.2,219.85 121.72,222.37 119.2,224.89 116.68,222.37" fill="#101088" stroke="none" stroke-width="1"/>
<polygon points="133.59,223.45 136.12,225.97 133.59,228.49 131.07,225.97" fill="#101088" stroke="none" stroke-width="1"/>
<polygon points="147.99,227.62 150.51,230.14 147.99,232.66 145.47,230.14" fill="#101088" stroke="none" stroke-width="1"/>
<polygon points="162.39,232.81 164.91,235.33 162.39,237.85 159.87,235.33" fill="#101088" stroke="none" stroke-width="1"/>
<polygon points="176.79,238.19 179.31,240.71 176.79,243.23 174.27,240.71" fill="#101088" stroke="none" stroke-width="1"/>
<polygon points="191.19,244.82 193.71,247.34 191.19,249.86 188.67,247.34" fill="#101088" stroke="none" stroke-width="1"/>
<polygon points="205.59,251.28 208.11,253.8 205.59,256.32 203.07,253.8" fill="#101088" stroke="none" stroke-width="1"/>
<polygon points="219.99,259.22 222.51,261.74 219.99,264.26 217.47,261.74" fill="#101088" stroke="none" stroke-width="1"/>
<polygon points="234.39,267.88 236.91,270.4 234.39,272.92 231.87,270.4" fill="#101088" stroke="none" stroke-width="1"/>
<polygon points="248.79,276.64 251.31,279.16 248.79,281.68 246.27,279.16" fill="#101088" stroke="none" stroke-width="1"/>
<polygon points="263.19,286.48 265.71,289 263.19,291.52 260.67,289" fill="#101088" stroke="none" stroke-width="1"/>
<polygon points="63.8,203.84 62.7,205.75 60.5,205.75 59.4,203.84 60.5,201.94 62.7,201.94" fill="#801018" stroke="none" stroke-width="1"/>
<polygon points="78.2,208.82 77.1,210.73 74.9,210.73 73.79,208.82 74.9,206.91 77.1,206.91" fill="#801018" stroke="none" stroke-width="1"/>
<polygon points="92.6,214.16 91.5,216.07 89.3,216.07 88.19,214.16 89.3,212.25 91.5,212.25" fill="#801018" stroke="none" stroke-width="1"/>
<polygon points="107,218.4 105.9,220.31 103.69,220.31 102.59,218.4 103.69,216.49 105.9,216.49" fill="#801018" stroke="none" stroke-width="1"/>
<polygon points="121.4,223.09 120.3,225 118.09,225 116.99,223.09 118.09,221.18 120.3,221.18" fill="#801018" stroke="none" stroke-width="1"/>
<polygon points="135.8,227.5 134.7,229.41 132.49,229.41 131.39,227.5 132.49,225.59 134.7,225.59" fill="#801018" stroke="none" stroke-width="1"/>
<polygon points="150.2,232.63 149.1,234.54 146.89,234.54 145.79,232.63 146.89,230.72 149.1,230.72" fill="#801018" stroke="none" stroke-width="1"/>
<polygon points="164.6,238.87 163.5,240.78 161.29,240.78 160.19,238.87 161.29,236.96 163.5,236.96" fill="#801018" stroke="none" stroke-width="1"/>
<polygon points="179,245.54 177.89,247.45 175.69,247.45 174.59,245.54 175.69,243.63 177.89,243.63" fill="#801018" stroke="none" stroke-width="1"/>
<polygon points="193.4,253.45 192.29,255.36 190.09,255.36 188.99,253.45 190.09,251.54 192.29,251.54" fill="#801018" stroke="none" stroke-width="1"/>
<polygon points="207.8,261.3 206.69,263.21 204.49,263.21 203.38,261.3 204.49,259.39 206.69,259.39" fill="#801018" stroke="none" stroke-width="1"/>
<polygon points="222.19,269.6 221.09,271.51 218.89,271.51 217.78,269.6 218.89,267.69 221.09,267.69" fill="#801018" stroke="none" stroke-width="1"/>
<polygon points="236.59,278.3 235.49,280.21 233.29,280.21 232.18,278.3 233.29,276.39 235.49,276.39" fill="#801018" stroke="none" stroke-width="1"/>
<polygon points="250.99,288.96 249.89,290.87 247.68,290.87 246.58,288.96 247.68,287.05 249.89,287.05" fill="#801018" stroke="none" stroke-width="1"/>
<polygon points="265.39,301 264.29,302.91 262.08,302.91 260.98,301 262.08,299.09 264.29,299.09" fill="#801018" stroke="none" stroke-width="1"/>
<polygon points="61.6,200.73 63.8,202.33 62.96,204.91 60.24,204.91 59.4,202.33" fill="#f81838" stroke="none" stroke-width="1"/>
<polygon points="76,205.86 78.2,207.45 77.36,210.04 74.64,210.04 73.8,207.45" fill="#f81838" stroke="none" stroke-width="1"/>
<polygon points="90.4,211.42 92.59,213.02 91.76,215.6 89.04,215.6 88.2,213.02" fill="#f81838" stroke="none" stroke-width="1"/>
<polygon points="104.8,216.09 106.99,217.69 106.15,220.27 103.44,220.27 102.6,217.69" fill="#f81838" stroke="none" stroke-width="1"/>
<polygon points="119.2,221.26 121.39,222.86 120.55,225.44 117.84,225.44 117,222.86" fill="#f81838" stroke="none" stroke-width="1"/>
<polygon points="133.59,226.21 135.79,227.81 134.95,230.39 132.24,230.39 131.4,227.81" fill="#f81838" stroke="none" stroke-width="1"/>
<polygon points="147.99,231.98 150.19,233.57 149.35,236.16 146.64,236.16 145.8,233.57" fill="#f81838" stroke="none" stroke-width="1"/>
<polygon points="162.39,238.92 164.59,240.51 163.75,243.1 161.04,243.1 160.2,240.51" fill="#f81838" stroke="none" stroke-width="1"/>
<polygon points="176.79,246.45 178.99,248.05 178.15,250.63 175.43,250.63 174.6,248.05" fill="#f81838" stroke="none" stroke-width="1"/>
<polygon points="191.19,255.21 193.39,256.81 192.55,259.39 189.83,259.39 188.99,256.81" fill="#f81838" stroke="none" stroke-width="1"/>
<polygon points="205.59,263.99 207.79,265.59 206.95,268.17 204.23,268.17 203.39,265.59" fill="#f81838" stroke="none" stroke-width="1"/>
<polygon points="219.99,274.49 222.19,276.08 221.35,278.67 218.63,278.67 217.79,276.08" fill="#f81838" stroke="none" stroke-width="1"/>
<polygon points="234.39,285.89 236.58,287.49 235.75,290.07 233.03,290.07 232.19,287.49" fill="#f81838" stroke="none" stroke-width="1"/>
<polygon points="248.79,297.69 250.98,299.29 250.14,301.87 247.43,301.87 246.59,299.29" fill="#f81838" stroke="none" stroke-width="1"/>
<polygon points="263.19,310.99 265.38,312.59 264.54,315.17 261.83,315.17 260.99,312.59" fill="#f81838" stroke="none" stroke-width="1"/>
<polygon points="61.6,199.43 62.28,201.23 64.2,201.32 62.7,202.52 63.2,204.37 61.6,203.32 60,204.37 60.5,202.52 59,201.32 60.92,201.23" fill="#18902c" stroke="none" stroke-width="1"/>
<polygon points="76,204.72 76.68,206.52 78.6,206.61 77.1,207.81 77.6,209.66 76,208.61 74.39,209.66 74.9,207.81 73.4,206.61 75.32,206.52" fill="#18902c" stroke="none" stroke-width="1"/>
<polygon points="90.4,210.53 91.08,212.33 92.99,212.42 91.5,213.62 92,215.47 90.4,214.42 88.79,215.47 89.3,213.62 87.8,212.42 89.72,212.33" fill="#18902c" stroke="none" stroke-width="1"/>
<polygon points="104.8,215.67 105.48,217.47 107.39,217.56 105.9,218.76 106.4,220.61 104.8,219.56 103.19,220.61 103.7,218.76 102.2,217.56 104.12,217.47" fill="#18902c" stroke="none" stroke-width="1"/>
<polygon points="119.2,221.37 119.87,223.17 121.79,223.26 120.29,224.46 120.8,226.31 119.2,225.26 117.59,226.31 118.1,224.46 116.6,223.26 118.52,223.17" fill="#18902c" stroke="none" stroke-width="1"/>
<polygon points="133.59,226.92 134.27,228.71 136.19,228.8 134.69,230 135.2,231.85 133.59,230.8 131.99,231.85 132.5,230 131,228.8 132.92,228.71" fill="#18902c" stroke="none" stroke-width="1"/>
<polygon points="147.99,233.39 148.67,235.18 150.59,235.27 149.09,236.47 149.6,238.32 147.99,237.27 146.39,238.32 146.9,236.47 145.4,235.27 147.32,235.18" fill="#18902c" stroke="none" stroke-width="1"/>
<polygon points="162.39,241.1 163.07,242.89 164.99,242.98 163.49,244.18 164,246.03 162.39,244.98 160.79,246.03 161.29,244.18 159.8,242.98 161.71,242.89" fill="#18902c" stroke="none" stroke-width="1"/>
<polygon points="176.79,249.57 177.47,251.37 179.39,251.46 177.89,252.66 178.4,254.51 176.79,253.46 175.19,254.51 175.69,252.66 174.2,251.46 176.11,251.37" fill="#18902c" stroke="none" stroke-width="1"/>
<polygon points="191.19,259.27 191.87,261.07 193.79,261.16 192.29,262.36 192.8,264.21 191.19,263.16 189.59,264.21 190.09,262.36 188.59,261.16 190.51,261.07" fill="#18902c" stroke="none" stroke-width="1"/>
<polygon points="205.59,269.07 206.27,270.87 208.19,270.96 206.69,272.16 207.19,274.01 205.59,272.95 203.99,274.01 204.49,272.16 202.99,270.96 204.91,270.87" fill="#18902c" stroke="none" stroke-width="1"/>
<polygon points="219.99,280.68 220.67,282.48 222.59,282.57 221.09,283.77 221.59,285.62 219.99,284.56 218.38,285.62 218.89,283.77 217.39,282.57 219.31,282.48" fill="#18902c" stroke="none" stroke-width="1"/>
<polygon points="234.39,293.27 235.07,295.07 236.98,295.16 235.49,296.36 235.99,298.21 234.39,297.15 232.78,298.21 233.29,296.36 231.79,295.16 233.71,295.07" fill="#18902c" stroke="none" stroke-width="1"/>
<polygon points="248.79,305.53 249.47,307.32 251.38,307.41 249.89,308.61 250.39,310.46 248.79,309.41 247.18,310.46 247.69,308.61 246.19,307.41 248.11,307.32" fill="#18902c" stroke="none" stroke-width="1"/>
<polygon points="263.19,319.27 263.86,321.07 265.78,321.16 264.28,322.36 264.79,324.21 263.19,323.15 261.58,324.21 262.09,322.36 260.59,321.16 262.51,321.07" fill="#18902c" stroke="none" stroke-width="1"/>
<circle cx="61.6" cy="201.54" r="2.1" fill="#1c2098" stroke="none" stroke-width="1"/>
<path d="M 60.09,201.54 A 1.51 1.51 0 0 1 63.11,201.54 Z" fill="#ffffff" stroke="none" stroke-width="0"/>
<circle cx="76" cy="206.95" r="2.1" fill="#1c2098" stroke="none" stroke-width="1"/>
<path d="M 74.49,206.95 A 1.51 1.51 0 0 1 77.51,206.95 Z" fill="#ffffff" stroke="none" stroke-width="0"/>
<circle cx="90.4" cy="212.93" r="2.1" fill="#1c2098" stroke="none" stroke-width="1"/>
<path d="M 88.89,212.93 A 1.51 1.51 0 0 1 91.91,212.93 Z" fill="#ffffff" stroke="none" stroke-width="0"/>
<circle cx="104.8" cy="218.4" r="2.1" fill="#1c2098" stroke="none" stroke-width="1"/>
<path d="M 103.29,218.4 A 1.51 1.51 0 0 1 106.31,218.4 Z" fill="#ffffff" stroke="none" stroke-width="0"/>
<circle cx="119.2" cy="224.48" r="2.1" fill="#1c2098" stroke="none" stroke-width="1"/>
<path d="M 117.68,224.48 A 1.51 1.51 0 0 1 120.71,224.48 Z" fill="#ffffff" stroke="none" stroke-width="0"/>
<circle cx="133.59" cy="230.44" r="2.1" fill="#1c2098" stroke="none" stroke-width="1"/>
<path d="M 132.08,230.44 A 1.51 1.51 0 0 1 135.11,230.44 Z" fill="#ffffff" stroke="none" stroke-width="0"/>
<circle cx="147.99" cy="237.41" r="2.1" fill="#1c2098" stroke="none" stroke-width="1"/>
<path d="M 146.48,237.41 A 1.51 1.51 0 0 1 149.51,237.41 Z" fill="#ffffff" stroke="none" stroke-width="0"/>
<circle cx="162.39" cy="245.67" r="2.1" fill="#1c2098" stroke="none" stroke-width="1"/>
<path d="M 160.88,245.67 A 1.51 1.51 0 0 1 163.91,245.67 Z" fill="#ffffff" stroke="none" stroke-width="0"/>
<circle cx="176.79" cy="254.82" r="2.1" fill="#1c2098" stroke="none" stroke-width="1"/>
<path d="M 175.28,254.82 A 1.51 1.51 0 0 1 178.3,254.82 Z" fill="#ffffff" stroke="none" stroke-width="0"/>
<circle cx="191.19" cy="265.18" r="2.1" fill="#1c2098" stroke="none" stroke-width="1"/>
<path d="M 189.68,265.18 A 1.51 1.51 0 0 1 192.7,265.18 Z" fill="#ffffff" stroke="none" stroke-width="0"/>
<circle cx="205.59" cy="275.7" r="2.1" fill="#1c2098" stroke="none" stroke-width="1"/>
<path d="M 204.08,275.7 A 1.51 1.51 0 0 1 207.1,275.7 Z" fill="#ffffff" stroke="none" stroke-width="0"/>
<circle cx="219.99" cy="288.72" r="2.1" fill="#1c2098" stroke="none" stroke-width="1"/>
<path d="M 218.48,288.72 A 1.51 1.51 0 0 1 221.5,288.72 Z" fill="#ffffff" stroke="none" stroke-width="0"/>
<circle cx="234.39" cy="303" r="2.1" fill="#1c2098" stroke="none" stroke-width="1"/>
<path d="M 232.88,303 A 1.51 1.51 0 0 1 235.9,303 Z" fill="#ffffff" stroke="none" stroke-width="0"/>
<circle cx="248.79" cy="315.75" r="2.1" fill="#1c2098" stroke="none" stroke-width="1"/>
<path d="M 247.28,315.75 A 1.51 1.51 0 0 1 250.3,315.75 Z" fill="#ffffff" stroke="none" stroke-width="0"/>
<circle cx="263.19" cy="330" r="2.1" fill="#1c2098" stroke="none" stroke-width="1"/>
<path d="M 261.67,330 A 1.51 1.51 0 0 1 264.7,330 Z" fill="#ffffff" stroke="none" stroke-width="0"/>
<rect x="59.71" y="199.12" width="3.78" height="3.78" fill="#f85020" stroke="none" stroke-width="1"/>
<rect x="74.11" y="204.63" width="3.78" height="3.78" fill="#f85020" stroke="none" stroke-width="1"/>
<rect x="88.51" y="210.75" width="3.78" height="3.78" fill="#f85020" stroke="none" stroke-width="1"/>
<rect x="102.91" y="216.51" width="3.78" height="3.78" fill="#f85020" stroke="none" stroke-width="1"/>
<rect x="117.31" y="222.9" width="3.78" height="3.78" fill="#f85020" stroke="none" stroke-width="1"/>
<rect x="131.71" y="229.22" width="3.78" height="3.78" fill="#f85020" stroke="none" stroke-width="1"/>
<rect x="146.1" y="236.62" width="3.78" height="3.78" fill="#f85020" stroke="none" stroke-width="1"/>
<rect x="160.5" y="245.34" width="3.78" height="3.78" fill="#f85020" stroke="none" stroke-width="1"/>
<rect x="174.9" y="255.05" width="3.78" height="3.78" fill="#f85020" stroke="none" stroke-width="1"/>
<rect x="189.3" y="265.98" width="3.78" height="3.78" fill="#f85020" stroke="none" stroke-width="1"/>
<rect x="203.7" y="277.11" width="3.78" height="3.78" fill="#f85020" stroke="none" stroke-width="1"/>
<rect x="218.1" y="290.93" width="3.78" height="3.78" fill="#f85020" stroke="none" stroke-width="1"/>
<rect x="232.5" y="306.11" width="3.78" height="3.78" fill="#f85020" stroke="none" stroke-width="1"/>
<rect x="246.9" y="319.79" width="3.78" height="3.78" fill="#f85020" stroke="none" stroke-width="1"/>
<rect x="261.3" y="335.11" width="3.78" height="3.78" fill="#f85020" stroke="none" stroke-width="1"/>
<polygon points="63.8,200.21 62.7,202.12 60.5,202.12 59.4,200.21 60.5,198.3 62.7,198.3" fill="#800888" stroke="none" stroke-width="1"/>
<polygon points="78.2,205.87 77.1,207.78 74.9,207.78 73.79,205.87 74.9,203.96 77.1,203.96" fill="#800888" stroke="none" stroke-width="1"/>
<polygon points="92.6,212.21 91.5,214.12 89.3,214.12 88.19,212.21 89.3,210.3 91.5,210.3" fill="#800888" stroke="none" stroke-width="1"/>
<polygon points="107,218.4 105.9,220.31 103.69,220.31 102.59,218.4 103.69,216.49 105.9,216.49" fill="#800888" stroke="none" stroke-width="1"/>
<polygon points="121.4,225.28 120.3,227.18 118.09,227.18 116.99,225.28 118.09,223.37 120.3,223.37" fill="#800888" stroke="none" stroke-width="1"/>
<polygon points="135.8,232.13 134.7,234.04 132.49,234.04 131.39,232.13 132.49,230.23 134.7,230.23" fill="#800888" stroke="none" stroke-width="1"/>
<polygon points="150.2,240.17 149.1,242.08 146.89,242.08 145.79,240.17 146.89,238.26 149.1,238.26" fill="#800888" stroke="none" stroke-width="1"/>
<polygon points="164.6,249.59 163.5,251.5 161.29,251.5 160.19,249.59 161.29,247.68 163.5,247.68" fill="#800888" stroke="none" stroke-width="1"/>
<polygon points="179,260.16 177.89,262.07 175.69,262.07 174.59,260.16 175.69,258.25 177.89,258.25" fill="#800888" stroke="none" stroke-width="1"/>
<polygon points="193.4,271.94 192.29,273.85 190.09,273.85 188.99,271.94 190.09,270.03 192.29,270.03" fill="#800888" stroke="none" stroke-width="1"/>
<polygon points="207.8,284 206.69,285.91 204.49,285.91 203.38,284 204.49,282.09 206.69,282.09" fill="#800888" stroke="none" stroke-width="1"/>
<polygon points="222.19,298.37 221.09,300.28 218.89,300.28 217.78,298.37 218.89,296.46 221.09,296.46" fill="#800888" stroke="none" stroke-width="1"/>
<polygon points="236.59,314 235.49,315.91 233.29,315.91 232.18,314 233.29,312.09 235.49,312.09" fill="#800888" stroke="none" stroke-width="1"/>
<polygon points="250.99,326.81 249.89,328.72 247.68,328.72 246.58,326.81 247.68,324.9 249.89,324.9" fill="#800888" stroke="none" stroke-width="1"/>
<polygon points="265.39,341 264.29,342.91 262.08,342.91 260.98,341 262.08,339.09 264.29,339.09" fill="#800888" stroke="none" stroke-width="1"/>
<polygon points="61.6,197.38 64.02,201.68 59.19,201.68" fill="#901090" stroke="none" stroke-width="1"/>
<polygon points="76,203.07 78.41,207.38 73.58,207.38" fill="#901090" stroke="none" stroke-width="1"/>
<polygon points="90.4,209.47 92.81,213.78 87.98,213.78" fill="#901090" stroke="none" stroke-width="1"/>
<polygon points="104.8,215.78 107.21,220.08 102.38,220.08" fill="#901090" stroke="none" stroke-width="1"/>
<polygon points="119.2,222.78 121.61,227.08 116.78,227.08" fill="#901090" stroke="none" stroke-width="1"/>
<polygon points="133.59,229.78 136.01,234.08 131.18,234.08" fill="#901090" stroke="none" stroke-width="1"/>
<polygon points="147.99,237.97 150.41,242.28 145.58,242.28" fill="#901090" stroke="none" stroke-width="1"/>
<polygon points="162.39,247.57 164.81,251.88 159.98,251.88" fill="#901090" stroke="none" stroke-width="1"/>
<polygon points="176.79,258.38 179.21,262.68 174.38,262.68" fill="#901090" stroke="none" stroke-width="1"/>
<polygon points="191.19,270.38 193.61,274.68 188.78,274.68" fill="#901090" stroke="none" stroke-width="1"/>
<polygon points="205.59,282.68 208,286.98 203.18,286.98" fill="#901090" stroke="none" stroke-width="1"/>
<polygon points="219.99,297.38 222.4,301.68 217.57,301.68" fill="#901090" stroke="none" stroke-width="1"/>
<polygon points="234.39,313.38 236.8,317.68 231.97,317.68" fill="#901090" stroke="none" stroke-width="1"/>
<polygon points="248.79,326.88 251.2,331.18 246.37,331.18" fill="#901090" stroke="none" stroke-width="1"/>
<polygon points="263.19,341.88 265.6,346.18 260.77,346.18" fill="#901090" stroke="none" stroke-width="1"/>
</g>
<rect x="61.6" y="196.5" width="205.7" height="152.3" fill="none" stroke="#161616" stroke-width="0.9"/>
<line x1="61.6" y1="216.6" x2="58.8" y2="216.6" stroke="#161616" stroke-width="0.8"/>
<line x1="267.3" y1="216.6" x2="264.5" y2="216.6" stroke="#161616" stroke-width="0.8"/>
<text x="56.4" y="220.2" font-size="10.7" text-anchor="end" fill="#141414">-4</text>
<line x1="61.6" y1="236.88" x2="59.9" y2="236.88" stroke="#161616" stroke-width="0.8"/>
<line x1="267.3" y1="236.88" x2="265.6" y2="236.88" stroke="#161616" stroke-width="0.8"/>
<line x1="61.6" y1="257.16" x2="58.8" y2="257.16" stroke="#161616" stroke-width="0.8"/>
<line x1="267.3" y1="257.16" x2="264.5" y2="257.16" stroke="#161616" stroke-width="0.8"/>
<text x="56.4" y="260.76" font-size="10.7" text-anchor="end" fill="#141414">-6</text>
<line x1="61.6" y1="277.44" x2="59.9" y2="277.44" stroke="#161616" stroke-width="0.8"/>
<line x1="267.3" y1="277.44" x2="265.6" y2="277.44" stroke="#161616" stroke-width="0.8"/>
<line x1="61.6" y1="297.72" x2="58.8" y2="297.72" stroke="#161616" stroke-width="0.8"/>
<line x1="267.3" y1="297.72" x2="264.5" y2="297.72" stroke="#161616" stroke-width="0.8"/>
<text x="56.4" y="301.32" font-size="10.7" text-anchor="end" fill="#141414">-8</text>
<line x1="61.6" y1="318" x2="59.9" y2="318" stroke="#161616" stroke-width="0.8"/>
<line x1="267.3" y1="318" x2="265.6" y2="318" stroke="#161616" stroke-width="0.8"/>
<line x1="61.6" y1="338.28" x2="58.8" y2="338.28" stroke="#161616" stroke-width="0.8"/>
<line x1="267.3" y1="338.28" x2="264.5" y2="338.28" stroke="#161616" stroke-width="0.8"/>
<text x="56.4" y="341.88" font-size="10.7" text-anchor="end" fill="#141414">-10</text>
<line x1="61.6" y1="348.8" x2="61.6" y2="351.6" stroke="#161616" stroke-width="0.8"/>
<text x="61.9" y="362.6" font-size="10.4" text-anchor="middle" fill="#141414">1500</text>
<line x1="82.17" y1="348.8" x2="82.17" y2="350.5" stroke="#161616" stroke-width="0.8"/>
<line x1="82.17" y1="196.5" x2="82.17" y2="198.2" stroke="#161616" stroke-width="0.8"/>
<line x1="102.74" y1="348.8" x2="102.74" y2="351.6" stroke="#161616" stroke-width="0.8"/>
<line x1="102.74" y1="196.5" x2="102.74" y2="199.3" stroke="#161616" stroke-width="0.8"/>
<text x="103.04" y="362.6" font-size="10.4" text-anchor="middle" fill="#141414">1520</text>
<line x1="123.31" y1="348.8" x2="123.31" y2="350.5" stroke="#161616" stroke-width="0.8"/>
<line x1="123.31" y1="196.5" x2="123.31" y2="198.2" stroke="#161616" stroke-width="0.8"/>
<line x1="143.88" y1="348.8" x2="143.88" y2="351.6" stroke="#161616" stroke-width="0.8"/>
<line x1="143.88" y1="196.5" x2="143.88" y2="199.3" stroke="#161616" stroke-width="0.8"/>
<text x="144.18" y="362.6" font-size="10.4" text-anchor="middle" fill="#141414">1540</text>
<line x1="164.45" y1="348.8" x2="164.45" y2="350.5" stroke="#161616" stroke-width="0.8"/>
<line x1="164.45" y1="196.5" x2="164.45" y2="198.2" stroke="#161616" stroke-width="0.8"/>
<line x1="185.02" y1="348.8" x2="185.02" y2="351.6" stroke="#161616" stroke-width="0.8"/>
<line x1="185.02" y1="196.5" x2="185.02" y2="199.3" stroke="#161616" stroke-width="0.8"/>
<text x="185.32" y="362.6" font-size="10.4" text-anchor="middle" fill="#141414">1560</text>
<line x1="205.59" y1="348.8" x2="205.59" y2="350.5" stroke="#161616" stroke-width="0.8"/>
<line x1="205.59" y1="196.5" x2="205.59" y2="198.2" stroke="#161616" stroke-width="0.8"/>
<line x1="226.16" y1="348.8" x2="226.16" y2="351.6" stroke="#161616" stroke-width="0.8"/>
<line x1="226.16" y1="196.5" x2="226.16" y2="199.3" stroke="#161616" stroke-width="0.8"/>
<text x="226.46" y="362.6" font-size="10.4" text-anchor="middle" fill="#141414">1580</text>
<line x1="246.73" y1="348.8" x2="246.73" y2="350.5" stroke="#161616" stroke-width="0.8"/>
<line x1="246.73" y1="196.5" x2="246.73" y2="198.2" stroke="#161616" stroke-width="0.8"/>
<line x1="267.3" y1="348.8" x2="267.3" y2="351.6" stroke="#161616" stroke-width="0.8"/>
<text x="267.6" y="362.6" font-size="10.4" text-anchor="middle" fill="#141414">1600</text>
<text x="164.7" y="381.6" font-size="12.2" text-anchor="middle" fill="#141414" textLength="93.8" lengthAdjust="spacingAndGlyphs">Wavelength (nm)</text>
<text x="35.3" y="279.7" font-size="12.2" text-anchor="middle" fill="#141414" transform="rotate(-90 35.3 279.7)">Power (dB)</text>
<line x1="62.6" y1="270.8" x2="79.6" y2="270.8" stroke="#101010" stroke-width="0.6" stroke-opacity="0.85"/>
<rect x="70" y="269" width="3.6" height="3.6" fill="#101010" stroke="none" stroke-width="1"/>
<text x="82.7" y="274.1" font-size="9.1" fill="#141414" textLength="33.6" lengthAdjust="spacingAndGlyphs">90 %RH</text>
<line x1="62.6" y1="282.05" x2="79.6" y2="282.05" stroke="#f01018" stroke-width="0.6" stroke-opacity="0.85"/>
<circle cx="71.8" cy="282.05" r="2" fill="#f01018" stroke="none" stroke-width="1"/>
<text x="82.7" y="285.35" font-size="9.1" fill="#141414" textLength="33.6" lengthAdjust="spacingAndGlyphs">85 %RH</text>
<line x1="62.6" y1="293.3" x2="79.6" y2="293.3" stroke="#1818e8" stroke-width="0.6" stroke-opacity="0.85"/>
<polygon points="71.8,290.8 74.1,294.9 69.5,294.9" fill="#1818e8" stroke="none" stroke-width="1"/>
<text x="82.7" y="296.6" font-size="9.1" fill="#141414" textLength="33.6" lengthAdjust="spacingAndGlyphs">80 %RH</text>
<line x1="62.6" y1="304.55" x2="79.6" y2="304.55" stroke="#108080" stroke-width="0.6" stroke-opacity="0.85"/>
<polygon points="71.8,307.05 74.1,302.95 69.5,302.95" fill="#108080" stroke="none" stroke-width="1"/>
<text x="82.7" y="307.85" font-size="9.1" fill="#141414" textLength="33.6" lengthAdjust="spacingAndGlyphs">75 %RH</text>
<line x1="62.6" y1="315.8" x2="79.6" y2="315.8" stroke="#f010f0" stroke-width="0.6" stroke-opacity="0.85"/>
<polygon points="69.3,315.8 73.4,313.5 73.4,318.1" fill="#f010f0" stroke="none" stroke-width="1"/>
<text x="82.7" y="319.1" font-size="9.1" fill="#141414" textLength="33.6" lengthAdjust="spacingAndGlyphs">70 %RH</text>
<line x1="62.6" y1="327.05" x2="79.6" y2="327.05" stroke="#8a8a10" stroke-width="0.6" stroke-opacity="0.85"/>
<polygon points="74.3,327.05 70.2,324.75 70.2,329.35" fill="#8a8a10" stroke="none" stroke-width="1"/>
<text x="82.7" y="330.35" font-size="9.1" fill="#141414" textLength="33.6" lengthAdjust="spacingAndGlyphs">65 %RH</text>
<line x1="62.6" y1="338.3" x2="79.6" y2="338.3" stroke="#101088" stroke-width="0.6" stroke-opacity="0.85"/>
<polygon points="71.8,335.9 74.2,338.3 71.8,340.7 69.4,338.3" fill="#101088" stroke="none" stroke-width="1"/>
<text x="82.7" y="341.6" font-size="9.1" fill="#141414" textLength="33.6" lengthAdjust="spacingAndGlyphs">60 %RH</text>
<line x1="126.6" y1="270.8" x2="143" y2="270.8" stroke="#801018" stroke-width="0.6" stroke-opacity="0.85"/>
<polygon points="136.9,270.8 135.85,272.62 133.75,272.62 132.7,270.8 133.75,268.98 135.85,268.98" fill="#801018" stroke="none" stroke-width="1"/>
<text x="145.7" y="274.1" font-size="9.1" fill="#141414" textLength="33.6" lengthAdjust="spacingAndGlyphs">55 %RH</text>
<line x1="126.6" y1="282.05" x2="143" y2="282.05" stroke="#f81838" stroke-width="0.6" stroke-opacity="0.85"/>
<polygon points="134.8,279.85 136.89,281.37 136.09,283.83 133.51,283.83 132.71,281.37" fill="#f81838" stroke="none" stroke-width="1"/>
<text x="145.7" y="285.35" font-size="9.1" fill="#141414" textLength="33.6" lengthAdjust="spacingAndGlyphs">50 %RH</text>
<line x1="126.6" y1="293.3" x2="143" y2="293.3" stroke="#18902c" stroke-width="0.6" stroke-opacity="0.85"/>
<polygon points="134.8,290.7 135.45,292.41 137.27,292.5 135.85,293.64 136.33,295.4 134.8,294.4 133.27,295.4 133.75,293.64 132.33,292.5 134.15,292.41" fill="#18902c" stroke="none" stroke-width="1"/>
<text x="145.7" y="296.6" font-size="9.1" fill="#141414" textLength="33.6" lengthAdjust="spacingAndGlyphs">45 %RH</text>
<line x1="126.6" y1="304.55" x2="143" y2="304.55" stroke="#1c2098" stroke-width="0.6" stroke-opacity="0.85"/>
<circle cx="134.8" cy="304.55" r="2" fill="#1c2098" stroke="none" stroke-width="1"/>
<path d="M 133.36,304.55 A 1.44 1.44 0 0 1 136.24,304.55 Z" fill="#ffffff" stroke="none" stroke-width="0"/>
<text x="145.7" y="307.85" font-size="9.1" fill="#141414" textLength="33.6" lengthAdjust="spacingAndGlyphs">40 %RH</text>
<line x1="126.6" y1="315.8" x2="143" y2="315.8" stroke="#f85020" stroke-width="0.6" stroke-opacity="0.85"/>
<rect x="133" y="314" width="3.6" height="3.6" fill="#f85020" stroke="none" stroke-width="1"/>
<text x="145.7" y="319.1" font-size="9.1" fill="#141414" textLength="33.6" lengthAdjust="spacingAndGlyphs">35 %RH</text>
<line x1="126.6" y1="327.05" x2="143" y2="327.05" stroke="#800888" stroke-width="0.6" stroke-opacity="0.85"/>
<polygon points="136.9,327.05 135.85,328.87 133.75,328.87 132.7,327.05 133.75,325.23 135.85,325.23" fill="#800888" stroke="none" stroke-width="1"/>
<text x="145.7" y="330.35" font-size="9.1" fill="#141414" textLength="33.6" lengthAdjust="spacingAndGlyphs">30 %RH</text>
<line x1="126.6" y1="338.3" x2="143" y2="338.3" stroke="#901090" stroke-width="0.6" stroke-opacity="0.85"/>
<polygon points="134.8,335.8 137.1,339.9 132.5,339.9" fill="#901090" stroke="none" stroke-width="1"/>
<text x="145.7" y="341.6" font-size="9.1" fill="#141414" textLength="33.6" lengthAdjust="spacingAndGlyphs">25 %RH</text>
</g>
<g id="panel-d">
<text x="281" y="209.6" font-size="16.5" fill="#111">(d)</text>
<polyline points="328.52,210.8 345.99,209.5 359.18,208.2 372.37,206.7 388.85,206.2 402.04,205.9 419.52,205.4 438.31,205.2 454.79,203.9 471.28,203.1 487.76,201.6 504.25,201.4 520.74,201.7 537.22,201.6" fill="none" stroke="#3c3c3c" stroke-width="1" stroke-linejoin="round"/>
<polyline points="328.52,223.5 345.99,221 359.18,219.4 372.37,217.4 388.85,215.9 402.04,214.6 419.52,213.3 438.31,211.5 454.79,209.5 471.28,207.2 487.76,204.7 504.25,203.4 520.74,202.6 537.22,201.9" fill="none" stroke="#f03838" stroke-width="1" stroke-linejoin="round"/>
<polyline points="328.52,239.5 345.99,236.2 359.18,233.2 372.37,230.6 388.85,228.8 402.04,226 419.52,222.5 438.31,219.7 454.79,215.9 471.28,212.3 487.76,209 504.25,205.7 520.74,203.9 537.22,202.3" fill="none" stroke="#3434e4" stroke-width="1" stroke-linejoin="round"/>
<polyline points="328.52,259.4 345.99,256.1 359.18,252.3 372.37,248.4 388.85,245.9 402.04,241.6 419.52,237 438.31,232.4 454.79,226.3 471.28,220.4 487.76,214.1 504.25,210.3 520.74,207.7 537.22,205.2" fill="none" stroke="#2c9c94" stroke-width="1" stroke-linejoin="round"/>
<polyline points="328.52,281.5 345.99,279 359.18,272.9 372.37,270.1 388.85,264.2 402.04,257.8 419.52,251 438.31,242.8 454.79,235.7 471.28,228.8 487.76,221.2 504.25,216.6 520.74,212 537.22,208.2" fill="none" stroke="#f020f0" stroke-width="1" stroke-linejoin="round"/>
<polyline points="328.52,309.8 345.99,305.2 359.18,300.6 372.37,293 388.85,287.1 402.04,278.2 419.52,266.8 438.31,256.8 454.79,248.4 471.28,238.3 487.76,228.1 504.25,224.3 520.74,217.9 537.22,213.3" fill="none" stroke="#98983a" stroke-width="1" stroke-linejoin="round"/>
<polyline points="328.52,333.7 345.99,330.1 359.18,326 372.37,316.6 388.85,307.7 402.04,297 419.52,284.8 438.31,272.1 454.79,262.4 471.28,247.2 487.76,235.2 504.25,231.1 520.74,222.2 537.22,221" fill="none" stroke="#2c2ca0" stroke-width="1" stroke-linejoin="round"/>
<polyline points="328.52,356.8 345.99,356.8 359.18,352.3 372.37,342.6 388.85,331.9 402.04,319.2 419.52,304.7 438.31,289.7 454.79,272.6 471.28,254.8 487.76,242.8 504.25,239 520.74,230.6 537.22,228.1" fill="none" stroke="#a84444" stroke-width="1" stroke-linejoin="round"/>
<rect x="326.27" y="208.55" width="4.5" height="4.5" fill="#ffffff" stroke="#3c3c3c" stroke-width="0.9"/>
<rect x="343.74" y="207.25" width="4.5" height="4.5" fill="#ffffff" stroke="#3c3c3c" stroke-width="0.9"/>
<rect x="356.93" y="205.95" width="4.5" height="4.5" fill="#ffffff" stroke="#3c3c3c" stroke-width="0.9"/>
<rect x="370.12" y="204.45" width="4.5" height="4.5" fill="#ffffff" stroke="#3c3c3c" stroke-width="0.9"/>
<rect x="386.6" y="203.95" width="4.5" height="4.5" fill="#ffffff" stroke="#3c3c3c" stroke-width="0.9"/>
<rect x="399.79" y="203.65" width="4.5" height="4.5" fill="#ffffff" stroke="#3c3c3c" stroke-width="0.9"/>
<rect x="417.27" y="203.15" width="4.5" height="4.5" fill="#ffffff" stroke="#3c3c3c" stroke-width="0.9"/>
<rect x="436.06" y="202.95" width="4.5" height="4.5" fill="#ffffff" stroke="#3c3c3c" stroke-width="0.9"/>
<rect x="452.54" y="201.65" width="4.5" height="4.5" fill="#ffffff" stroke="#3c3c3c" stroke-width="0.9"/>
<rect x="469.03" y="200.85" width="4.5" height="4.5" fill="#ffffff" stroke="#3c3c3c" stroke-width="0.9"/>
<rect x="485.51" y="199.35" width="4.5" height="4.5" fill="#ffffff" stroke="#3c3c3c" stroke-width="0.9"/>
<rect x="502" y="199.15" width="4.5" height="4.5" fill="#ffffff" stroke="#3c3c3c" stroke-width="0.9"/>
<rect x="518.49" y="199.45" width="4.5" height="4.5" fill="#ffffff" stroke="#3c3c3c" stroke-width="0.9"/>
<rect x="534.97" y="199.35" width="4.5" height="4.5" fill="#ffffff" stroke="#3c3c3c" stroke-width="0.9"/>
<circle cx="328.52" cy="223.5" r="2.5" fill="#ffffff" stroke="#f03838" stroke-width="0.9"/>
<circle cx="345.99" cy="221" r="2.5" fill="#ffffff" stroke="#f03838" stroke-width="0.9"/>
<circle cx="359.18" cy="219.4" r="2.5" fill="#ffffff" stroke="#f03838" stroke-width="0.9"/>
<circle cx="372.37" cy="217.4" r="2.5" fill="#ffffff" stroke="#f03838" stroke-width="0.9"/>
<circle cx="388.85" cy="215.9" r="2.5" fill="#ffffff" stroke="#f03838" stroke-width="0.9"/>
<circle cx="402.04" cy="214.6" r="2.5" fill="#ffffff" stroke="#f03838" stroke-width="0.9"/>
<circle cx="419.52" cy="213.3" r="2.5" fill="#ffffff" stroke="#f03838" stroke-width="0.9"/>
<circle cx="438.31" cy="211.5" r="2.5" fill="#ffffff" stroke="#f03838" stroke-width="0.9"/>
<circle cx="454.79" cy="209.5" r="2.5" fill="#ffffff" stroke="#f03838" stroke-width="0.9"/>
<circle cx="471.28" cy="207.2" r="2.5" fill="#ffffff" stroke="#f03838" stroke-width="0.9"/>
<circle cx="487.76" cy="204.7" r="2.5" fill="#ffffff" stroke="#f03838" stroke-width="0.9"/>
<circle cx="504.25" cy="203.4" r="2.5" fill="#ffffff" stroke="#f03838" stroke-width="0.9"/>
<circle cx="520.74" cy="202.6" r="2.5" fill="#ffffff" stroke="#f03838" stroke-width="0.9"/>
<circle cx="537.22" cy="201.9" r="2.5" fill="#ffffff" stroke="#f03838" stroke-width="0.9"/>
<polygon points="328.52,242.38 331.39,237.5 325.64,237.5" fill="#ffffff" stroke="#3434e4" stroke-width="0.9"/>
<polygon points="345.99,239.07 348.87,234.2 343.12,234.2" fill="#ffffff" stroke="#3434e4" stroke-width="0.9"/>
<polygon points="359.18,236.07 362.06,231.2 356.31,231.2" fill="#ffffff" stroke="#3434e4" stroke-width="0.9"/>
<polygon points="372.37,233.47 375.25,228.6 369.5,228.6" fill="#ffffff" stroke="#3434e4" stroke-width="0.9"/>
<polygon points="388.85,231.68 391.73,226.8 385.98,226.8" fill="#ffffff" stroke="#3434e4" stroke-width="0.9"/>
<polygon points="402.04,228.88 404.92,224 399.17,224" fill="#ffffff" stroke="#3434e4" stroke-width="0.9"/>
<polygon points="419.52,225.38 422.39,220.5 416.64,220.5" fill="#ffffff" stroke="#3434e4" stroke-width="0.9"/>
<polygon points="438.31,222.57 441.19,217.7 435.44,217.7" fill="#ffffff" stroke="#3434e4" stroke-width="0.9"/>
<polygon points="454.79,218.78 457.67,213.9 451.92,213.9" fill="#ffffff" stroke="#3434e4" stroke-width="0.9"/>
<polygon points="471.28,215.18 474.15,210.3 468.4,210.3" fill="#ffffff" stroke="#3434e4" stroke-width="0.9"/>
<polygon points="487.76,211.88 490.64,207 484.89,207" fill="#ffffff" stroke="#3434e4" stroke-width="0.9"/>
<polygon points="504.25,208.57 507.12,203.7 501.38,203.7" fill="#ffffff" stroke="#3434e4" stroke-width="0.9"/>
<polygon points="520.74,206.78 523.61,201.9 517.86,201.9" fill="#ffffff" stroke="#3434e4" stroke-width="0.9"/>
<polygon points="537.22,205.18 540.1,200.3 534.35,200.3" fill="#ffffff" stroke="#3434e4" stroke-width="0.9"/>
<polygon points="325.52,259.4 330.52,256.52 330.52,262.27" fill="#ffffff" stroke="#2c9c94" stroke-width="0.9"/>
<polygon points="342.99,256.1 347.99,253.23 347.99,258.98" fill="#ffffff" stroke="#2c9c94" stroke-width="0.9"/>
<polygon points="356.18,252.3 361.18,249.43 361.18,255.18" fill="#ffffff" stroke="#2c9c94" stroke-width="0.9"/>
<polygon points="369.37,248.4 374.37,245.53 374.37,251.28" fill="#ffffff" stroke="#2c9c94" stroke-width="0.9"/>
<polygon points="385.85,245.9 390.85,243.03 390.85,248.78" fill="#ffffff" stroke="#2c9c94" stroke-width="0.9"/>
<polygon points="399.04,241.6 404.04,238.72 404.04,244.47" fill="#ffffff" stroke="#2c9c94" stroke-width="0.9"/>
<polygon points="416.52,237 421.52,234.12 421.52,239.88" fill="#ffffff" stroke="#2c9c94" stroke-width="0.9"/>
<polygon points="435.31,232.4 440.31,229.53 440.31,235.28" fill="#ffffff" stroke="#2c9c94" stroke-width="0.9"/>
<polygon points="451.79,226.3 456.79,223.43 456.79,229.18" fill="#ffffff" stroke="#2c9c94" stroke-width="0.9"/>
<polygon points="468.28,220.4 473.28,217.53 473.28,223.28" fill="#ffffff" stroke="#2c9c94" stroke-width="0.9"/>
<polygon points="484.76,214.1 489.76,211.22 489.76,216.97" fill="#ffffff" stroke="#2c9c94" stroke-width="0.9"/>
<polygon points="501.25,210.3 506.25,207.43 506.25,213.18" fill="#ffffff" stroke="#2c9c94" stroke-width="0.9"/>
<polygon points="517.74,207.7 522.74,204.82 522.74,210.57" fill="#ffffff" stroke="#2c9c94" stroke-width="0.9"/>
<polygon points="534.22,205.2 539.22,202.32 539.22,208.07" fill="#ffffff" stroke="#2c9c94" stroke-width="0.9"/>
<polygon points="328.52,278.38 331.64,281.5 328.52,284.62 325.39,281.5" fill="#ffffff" stroke="#f020f0" stroke-width="0.9"/>
<polygon points="345.99,275.88 349.12,279 345.99,282.12 342.87,279" fill="#ffffff" stroke="#f020f0" stroke-width="0.9"/>
<polygon points="359.18,269.77 362.31,272.9 359.18,276.02 356.06,272.9" fill="#ffffff" stroke="#f020f0" stroke-width="0.9"/>
<polygon points="372.37,266.98 375.5,270.1 372.37,273.23 369.25,270.1" fill="#ffffff" stroke="#f020f0" stroke-width="0.9"/>
<polygon points="388.85,261.07 391.98,264.2 388.85,267.32 385.73,264.2" fill="#ffffff" stroke="#f020f0" stroke-width="0.9"/>
<polygon points="402.04,254.68 405.17,257.8 402.04,260.93 398.92,257.8" fill="#ffffff" stroke="#f020f0" stroke-width="0.9"/>
<polygon points="419.52,247.88 422.64,251 419.52,254.12 416.39,251" fill="#ffffff" stroke="#f020f0" stroke-width="0.9"/>
<polygon points="438.31,239.68 441.44,242.8 438.31,245.93 435.19,242.8" fill="#ffffff" stroke="#f020f0" stroke-width="0.9"/>
<polygon points="454.79,232.57 457.92,235.7 454.79,238.82 451.67,235.7" fill="#ffffff" stroke="#f020f0" stroke-width="0.9"/>
<polygon points="471.28,225.68 474.4,228.8 471.28,231.93 468.15,228.8" fill="#ffffff" stroke="#f020f0" stroke-width="0.9"/>
<polygon points="487.76,218.07 490.89,221.2 487.76,224.32 484.64,221.2" fill="#ffffff" stroke="#f020f0" stroke-width="0.9"/>
<polygon points="504.25,213.47 507.38,216.6 504.25,219.72 501.12,216.6" fill="#ffffff" stroke="#f020f0" stroke-width="0.9"/>
<polygon points="520.74,208.88 523.86,212 520.74,215.12 517.61,212" fill="#ffffff" stroke="#f020f0" stroke-width="0.9"/>
<polygon points="537.22,205.07 540.35,208.2 537.22,211.32 534.1,208.2" fill="#ffffff" stroke="#f020f0" stroke-width="0.9"/>
<circle cx="328.52" cy="309.8" r="2.5" fill="#ffffff" stroke="#98983a" stroke-width="0.9"/>
<circle cx="345.99" cy="305.2" r="2.5" fill="#ffffff" stroke="#98983a" stroke-width="0.9"/>
<circle cx="359.18" cy="300.6" r="2.5" fill="#ffffff" stroke="#98983a" stroke-width="0.9"/>
<circle cx="372.37" cy="293" r="2.5" fill="#ffffff" stroke="#98983a" stroke-width="0.9"/>
<circle cx="388.85" cy="287.1" r="2.5" fill="#ffffff" stroke="#98983a" stroke-width="0.9"/>
<circle cx="402.04" cy="278.2" r="2.5" fill="#ffffff" stroke="#98983a" stroke-width="0.9"/>
<circle cx="419.52" cy="266.8" r="2.5" fill="#ffffff" stroke="#98983a" stroke-width="0.9"/>
<circle cx="438.31" cy="256.8" r="2.5" fill="#ffffff" stroke="#98983a" stroke-width="0.9"/>
<circle cx="454.79" cy="248.4" r="2.5" fill="#ffffff" stroke="#98983a" stroke-width="0.9"/>
<circle cx="471.28" cy="238.3" r="2.5" fill="#ffffff" stroke="#98983a" stroke-width="0.9"/>
<circle cx="487.76" cy="228.1" r="2.5" fill="#ffffff" stroke="#98983a" stroke-width="0.9"/>
<circle cx="504.25" cy="224.3" r="2.5" fill="#ffffff" stroke="#98983a" stroke-width="0.9"/>
<circle cx="520.74" cy="217.9" r="2.5" fill="#ffffff" stroke="#98983a" stroke-width="0.9"/>
<circle cx="537.22" cy="213.3" r="2.5" fill="#ffffff" stroke="#98983a" stroke-width="0.9"/>
<polygon points="328.52,330.32 329.4,332.49 331.73,332.66 329.95,334.16 330.5,336.43 328.52,335.2 326.54,336.43 327.09,334.16 325.31,332.66 327.64,332.49" fill="#ffffff" stroke="#2c2ca0" stroke-width="0.81"/>
<polygon points="345.99,326.73 346.88,328.89 349.2,329.06 347.42,330.56 347.98,332.83 345.99,331.6 344.01,332.83 344.57,330.56 342.78,329.06 345.11,328.89" fill="#ffffff" stroke="#2c2ca0" stroke-width="0.81"/>
<polygon points="359.18,322.62 360.06,324.79 362.39,324.96 360.61,326.46 361.17,328.73 359.18,327.5 357.2,328.73 357.76,326.46 355.97,324.96 358.3,324.79" fill="#ffffff" stroke="#2c2ca0" stroke-width="0.81"/>
<polygon points="372.37,313.23 373.25,315.39 375.58,315.56 373.8,317.06 374.35,319.33 372.37,318.1 370.39,319.33 370.94,317.06 369.16,315.56 371.49,315.39" fill="#ffffff" stroke="#2c2ca0" stroke-width="0.81"/>
<polygon points="388.85,304.32 389.74,306.49 392.06,306.66 390.28,308.16 390.84,310.43 388.85,309.2 386.87,310.43 387.43,308.16 385.65,306.66 387.97,306.49" fill="#ffffff" stroke="#2c2ca0" stroke-width="0.81"/>
<polygon points="402.04,293.62 402.92,295.79 405.25,295.96 403.47,297.46 404.03,299.73 402.04,298.5 400.06,299.73 400.62,297.46 398.83,295.96 401.16,295.79" fill="#ffffff" stroke="#2c2ca0" stroke-width="0.81"/>
<polygon points="419.52,281.43 420.4,283.59 422.73,283.76 420.94,285.26 421.5,287.53 419.52,286.3 417.53,287.53 418.09,285.26 416.31,283.76 418.64,283.59" fill="#ffffff" stroke="#2c2ca0" stroke-width="0.81"/>
<polygon points="438.31,268.73 439.19,270.89 441.52,271.06 439.74,272.56 440.29,274.83 438.31,273.6 436.33,274.83 436.88,272.56 435.1,271.06 437.43,270.89" fill="#ffffff" stroke="#2c2ca0" stroke-width="0.81"/>
<polygon points="454.79,259.02 455.68,261.19 458,261.36 456.22,262.86 456.78,265.13 454.79,263.9 452.81,265.13 453.37,262.86 451.59,261.36 453.91,261.19" fill="#ffffff" stroke="#2c2ca0" stroke-width="0.81"/>
<polygon points="471.28,243.82 472.16,245.99 474.49,246.16 472.71,247.66 473.26,249.93 471.28,248.7 469.3,249.93 469.85,247.66 468.07,246.16 470.4,245.99" fill="#ffffff" stroke="#2c2ca0" stroke-width="0.81"/>
<polygon points="487.76,231.82 488.65,233.99 490.97,234.16 489.19,235.66 489.75,237.93 487.76,236.7 485.78,237.93 486.34,235.66 484.56,234.16 486.88,233.99" fill="#ffffff" stroke="#2c2ca0" stroke-width="0.81"/>
<polygon points="504.25,227.72 505.13,229.89 507.46,230.06 505.68,231.56 506.23,233.83 504.25,232.6 502.27,233.83 502.82,231.56 501.04,230.06 503.37,229.89" fill="#ffffff" stroke="#2c2ca0" stroke-width="0.81"/>
<polygon points="520.74,218.82 521.62,220.99 523.94,221.16 522.16,222.66 522.72,224.93 520.74,223.7 518.75,224.93 519.31,222.66 517.53,221.16 519.85,220.99" fill="#ffffff" stroke="#2c2ca0" stroke-width="0.81"/>
<polygon points="537.22,217.62 538.1,219.79 540.43,219.96 538.65,221.46 539.2,223.73 537.22,222.5 535.24,223.73 535.79,221.46 534.01,219.96 536.34,219.79" fill="#ffffff" stroke="#2c2ca0" stroke-width="0.81"/>
<circle cx="328.52" cy="356.8" r="2.5" fill="#ffffff" stroke="#a84444" stroke-width="0.9"/>
<circle cx="328.52" cy="356.8" r="1.38" fill="none" stroke="#a84444" stroke-width="0.54"/>
<circle cx="345.99" cy="356.8" r="2.5" fill="#ffffff" stroke="#a84444" stroke-width="0.9"/>
<circle cx="345.99" cy="356.8" r="1.38" fill="none" stroke="#a84444" stroke-width="0.54"/>
<circle cx="359.18" cy="352.3" r="2.5" fill="#ffffff" stroke="#a84444" stroke-width="0.9"/>
<circle cx="359.18" cy="352.3" r="1.38" fill="none" stroke="#a84444" stroke-width="0.54"/>
<circle cx="372.37" cy="342.6" r="2.5" fill="#ffffff" stroke="#a84444" stroke-width="0.9"/>
<circle cx="372.37" cy="342.6" r="1.38" fill="none" stroke="#a84444" stroke-width="0.54"/>
<circle cx="388.85" cy="331.9" r="2.5" fill="#ffffff" stroke="#a84444" stroke-width="0.9"/>
<circle cx="388.85" cy="331.9" r="1.38" fill="none" stroke="#a84444" stroke-width="0.54"/>
<circle cx="402.04" cy="319.2" r="2.5" fill="#ffffff" stroke="#a84444" stroke-width="0.9"/>
<circle cx="402.04" cy="319.2" r="1.38" fill="none" stroke="#a84444" stroke-width="0.54"/>
<circle cx="419.52" cy="304.7" r="2.5" fill="#ffffff" stroke="#a84444" stroke-width="0.9"/>
<circle cx="419.52" cy="304.7" r="1.38" fill="none" stroke="#a84444" stroke-width="0.54"/>
<circle cx="438.31" cy="289.7" r="2.5" fill="#ffffff" stroke="#a84444" stroke-width="0.9"/>
<circle cx="438.31" cy="289.7" r="1.38" fill="none" stroke="#a84444" stroke-width="0.54"/>
<circle cx="454.79" cy="272.6" r="2.5" fill="#ffffff" stroke="#a84444" stroke-width="0.9"/>
<circle cx="454.79" cy="272.6" r="1.38" fill="none" stroke="#a84444" stroke-width="0.54"/>
<circle cx="471.28" cy="254.8" r="2.5" fill="#ffffff" stroke="#a84444" stroke-width="0.9"/>
<circle cx="471.28" cy="254.8" r="1.38" fill="none" stroke="#a84444" stroke-width="0.54"/>
<circle cx="487.76" cy="242.8" r="2.5" fill="#ffffff" stroke="#a84444" stroke-width="0.9"/>
<circle cx="487.76" cy="242.8" r="1.38" fill="none" stroke="#a84444" stroke-width="0.54"/>
<circle cx="504.25" cy="239" r="2.5" fill="#ffffff" stroke="#a84444" stroke-width="0.9"/>
<circle cx="504.25" cy="239" r="1.38" fill="none" stroke="#a84444" stroke-width="0.54"/>
<circle cx="520.74" cy="230.6" r="2.5" fill="#ffffff" stroke="#a84444" stroke-width="0.9"/>
<circle cx="520.74" cy="230.6" r="1.38" fill="none" stroke="#a84444" stroke-width="0.54"/>
<circle cx="537.22" cy="228.1" r="2.5" fill="#ffffff" stroke="#a84444" stroke-width="0.9"/>
<circle cx="537.22" cy="228.1" r="1.38" fill="none" stroke="#a84444" stroke-width="0.54"/>
<rect x="322.3" y="197" width="218.2" height="162" fill="none" stroke="#161616" stroke-width="0.9"/>
<line x1="322.3" y1="197" x2="319.5" y2="197" stroke="#161616" stroke-width="0.8"/>
<text x="317.2" y="200.4" font-size="9.8" text-anchor="end" fill="#141414">-4</text>
<line x1="322.3" y1="209.45" x2="320.6" y2="209.45" stroke="#161616" stroke-width="0.8"/>
<line x1="540.5" y1="209.45" x2="538.8" y2="209.45" stroke="#161616" stroke-width="0.8"/>
<line x1="322.3" y1="221.9" x2="319.5" y2="221.9" stroke="#161616" stroke-width="0.8"/>
<line x1="540.5" y1="221.9" x2="537.7" y2="221.9" stroke="#161616" stroke-width="0.8"/>
<text x="317.2" y="225.3" font-size="9.8" text-anchor="end" fill="#141414">-5</text>
<line x1="322.3" y1="234.35" x2="320.6" y2="234.35" stroke="#161616" stroke-width="0.8"/>
<line x1="540.5" y1="234.35" x2="538.8" y2="234.35" stroke="#161616" stroke-width="0.8"/>
<line x1="322.3" y1="246.8" x2="319.5" y2="246.8" stroke="#161616" stroke-width="0.8"/>
<line x1="540.5" y1="246.8" x2="537.7" y2="246.8" stroke="#161616" stroke-width="0.8"/>
<text x="317.2" y="250.2" font-size="9.8" text-anchor="end" fill="#141414">-6</text>
<line x1="322.3" y1="259.25" x2="320.6" y2="259.25" stroke="#161616" stroke-width="0.8"/>
<line x1="540.5" y1="259.25" x2="538.8" y2="259.25" stroke="#161616" stroke-width="0.8"/>
<line x1="322.3" y1="271.7" x2="319.5" y2="271.7" stroke="#161616" stroke-width="0.8"/>
<line x1="540.5" y1="271.7" x2="537.7" y2="271.7" stroke="#161616" stroke-width="0.8"/>
<text x="317.2" y="275.1" font-size="9.8" text-anchor="end" fill="#141414">-7</text>
<line x1="322.3" y1="284.15" x2="320.6" y2="284.15" stroke="#161616" stroke-width="0.8"/>
<line x1="540.5" y1="284.15" x2="538.8" y2="284.15" stroke="#161616" stroke-width="0.8"/>
<line x1="322.3" y1="296.6" x2="319.5" y2="296.6" stroke="#161616" stroke-width="0.8"/>
<line x1="540.5" y1="296.6" x2="537.7" y2="296.6" stroke="#161616" stroke-width="0.8"/>
<text x="317.2" y="300" font-size="9.8" text-anchor="end" fill="#141414">-8</text>
<line x1="322.3" y1="309.05" x2="320.6" y2="309.05" stroke="#161616" stroke-width="0.8"/>
<line x1="540.5" y1="309.05" x2="538.8" y2="309.05" stroke="#161616" stroke-width="0.8"/>
<line x1="322.3" y1="321.5" x2="319.5" y2="321.5" stroke="#161616" stroke-width="0.8"/>
<line x1="540.5" y1="321.5" x2="537.7" y2="321.5" stroke="#161616" stroke-width="0.8"/>
<text x="317.2" y="324.9" font-size="9.8" text-anchor="end" fill="#141414">-9</text>
<line x1="322.3" y1="333.95" x2="320.6" y2="333.95" stroke="#161616" stroke-width="0.8"/>
<line x1="540.5" y1="333.95" x2="538.8" y2="333.95" stroke="#161616" stroke-width="0.8"/>
<line x1="322.3" y1="346.4" x2="319.5" y2="346.4" stroke="#161616" stroke-width="0.8"/>
<line x1="540.5" y1="346.4" x2="537.7" y2="346.4" stroke="#161616" stroke-width="0.8"/>
<text x="317.2" y="349.8" font-size="9.8" text-anchor="end" fill="#141414">-10</text>
<line x1="322.3" y1="358.85" x2="320.6" y2="358.85" stroke="#161616" stroke-width="0.8"/>
<line x1="339.4" y1="359" x2="339.4" y2="361.8" stroke="#161616" stroke-width="0.8"/>
<line x1="339.4" y1="197" x2="339.4" y2="199.8" stroke="#161616" stroke-width="0.8"/>
<text x="339.6" y="372" font-size="9.8" text-anchor="middle" fill="#141414">30</text>
<line x1="355.88" y1="359" x2="355.88" y2="360.7" stroke="#161616" stroke-width="0.8"/>
<line x1="355.88" y1="197" x2="355.88" y2="198.7" stroke="#161616" stroke-width="0.8"/>
<line x1="372.37" y1="359" x2="372.37" y2="361.8" stroke="#161616" stroke-width="0.8"/>
<line x1="372.37" y1="197" x2="372.37" y2="199.8" stroke="#161616" stroke-width="0.8"/>
<text x="372.57" y="372" font-size="9.8" text-anchor="middle" fill="#141414">40</text>
<line x1="388.85" y1="359" x2="388.85" y2="360.7" stroke="#161616" stroke-width="0.8"/>
<line x1="388.85" y1="197" x2="388.85" y2="198.7" stroke="#161616" stroke-width="0.8"/>
<line x1="405.34" y1="359" x2="405.34" y2="361.8" stroke="#161616" stroke-width="0.8"/>
<line x1="405.34" y1="197" x2="405.34" y2="199.8" stroke="#161616" stroke-width="0.8"/>
<text x="405.54" y="372" font-size="9.8" text-anchor="middle" fill="#141414">50</text>
<line x1="421.82" y1="359" x2="421.82" y2="360.7" stroke="#161616" stroke-width="0.8"/>
<line x1="421.82" y1="197" x2="421.82" y2="198.7" stroke="#161616" stroke-width="0.8"/>
<line x1="438.31" y1="359" x2="438.31" y2="361.8" stroke="#161616" stroke-width="0.8"/>
<line x1="438.31" y1="197" x2="438.31" y2="199.8" stroke="#161616" stroke-width="0.8"/>
<text x="438.51" y="372" font-size="9.8" text-anchor="middle" fill="#141414">60</text>
<line x1="454.79" y1="359" x2="454.79" y2="360.7" stroke="#161616" stroke-width="0.8"/>
<line x1="454.79" y1="197" x2="454.79" y2="198.7" stroke="#161616" stroke-width="0.8"/>
<line x1="471.28" y1="359" x2="471.28" y2="361.8" stroke="#161616" stroke-width="0.8"/>
<line x1="471.28" y1="197" x2="471.28" y2="199.8" stroke="#161616" stroke-width="0.8"/>
<text x="471.48" y="372" font-size="9.8" text-anchor="middle" fill="#141414">70</text>
<line x1="487.76" y1="359" x2="487.76" y2="360.7" stroke="#161616" stroke-width="0.8"/>
<line x1="487.76" y1="197" x2="487.76" y2="198.7" stroke="#161616" stroke-width="0.8"/>
<line x1="504.25" y1="359" x2="504.25" y2="361.8" stroke="#161616" stroke-width="0.8"/>
<line x1="504.25" y1="197" x2="504.25" y2="199.8" stroke="#161616" stroke-width="0.8"/>
<text x="504.45" y="372" font-size="9.8" text-anchor="middle" fill="#141414">80</text>
<line x1="520.74" y1="359" x2="520.74" y2="360.7" stroke="#161616" stroke-width="0.8"/>
<line x1="520.74" y1="197" x2="520.74" y2="198.7" stroke="#161616" stroke-width="0.8"/>
<line x1="537.22" y1="359" x2="537.22" y2="361.8" stroke="#161616" stroke-width="0.8"/>
<line x1="537.22" y1="197" x2="537.22" y2="199.8" stroke="#161616" stroke-width="0.8"/>
<text x="537.42" y="372" font-size="9.8" text-anchor="middle" fill="#141414">90</text>
<text x="431.6" y="390.2" font-size="12.4" text-anchor="middle" fill="#141414" textLength="134.7" lengthAdjust="spacingAndGlyphs">Relative humidity (%RH)</text>
<text x="297.5" y="285.3" font-size="12.4" text-anchor="middle" fill="#141414" transform="rotate(-90 297.5 285.3)">Power (dB)</text>
<line x1="475.6" y1="257.7" x2="492.8" y2="257.7" stroke="#3c3c3c" stroke-width="1"/>
<rect x="482.6" y="255.9" width="3.6" height="3.6" fill="#ffffff" stroke="#3c3c3c" stroke-width="0.9"/>
<text x="497.3" y="261.5" font-size="10.6" fill="#141414" textLength="39.4" lengthAdjust="spacingAndGlyphs">1530 nm</text>
<line x1="475.6" y1="271" x2="492.8" y2="271" stroke="#f03838" stroke-width="1"/>
<circle cx="484.4" cy="271" r="2.4" fill="#ffffff" stroke="#f03838" stroke-width="0.9"/>
<text x="497.3" y="274.8" font-size="10.6" fill="#141414" textLength="39.4" lengthAdjust="spacingAndGlyphs">1540 nm</text>
<line x1="475.6" y1="284.3" x2="492.8" y2="284.3" stroke="#3434e4" stroke-width="1"/>
<polygon points="484.4,287.06 487.16,282.38 481.64,282.38" fill="#ffffff" stroke="#3434e4" stroke-width="0.9"/>
<text x="497.3" y="288.1" font-size="10.6" fill="#141414" textLength="39.4" lengthAdjust="spacingAndGlyphs">1550 nm</text>
<line x1="475.6" y1="297.6" x2="492.8" y2="297.6" stroke="#2c9c94" stroke-width="1"/>
<polygon points="481.52,297.6 486.32,294.84 486.32,300.36" fill="#ffffff" stroke="#2c9c94" stroke-width="0.9"/>
<text x="497.3" y="301.4" font-size="10.6" fill="#141414" textLength="39.4" lengthAdjust="spacingAndGlyphs">1560 nm</text>
<line x1="475.6" y1="310.9" x2="492.8" y2="310.9" stroke="#f020f0" stroke-width="1"/>
<polygon points="484.4,307.9 487.4,310.9 484.4,313.9 481.4,310.9" fill="#ffffff" stroke="#f020f0" stroke-width="0.9"/>
<text x="497.3" y="314.7" font-size="10.6" fill="#141414" textLength="39.4" lengthAdjust="spacingAndGlyphs">1570 nm</text>
<line x1="475.6" y1="324.2" x2="492.8" y2="324.2" stroke="#98983a" stroke-width="1"/>
<circle cx="484.4" cy="324.2" r="2.4" fill="#ffffff" stroke="#98983a" stroke-width="0.9"/>
<text x="497.3" y="328" font-size="10.6" fill="#141414" textLength="39.4" lengthAdjust="spacingAndGlyphs">1580 nm</text>
<line x1="475.6" y1="337.5" x2="492.8" y2="337.5" stroke="#2c2ca0" stroke-width="1"/>
<polygon points="484.4,334.26 485.25,336.34 487.48,336.5 485.77,337.94 486.3,340.12 484.4,338.94 482.5,340.12 483.03,337.94 481.32,336.5 483.55,336.34" fill="#ffffff" stroke="#2c2ca0" stroke-width="0.81"/>
<text x="497.3" y="341.3" font-size="10.6" fill="#141414" textLength="39.4" lengthAdjust="spacingAndGlyphs">1590 nm</text>
<line x1="475.6" y1="350.8" x2="492.8" y2="350.8" stroke="#a84444" stroke-width="1"/>
<circle cx="484.4" cy="350.8" r="2.4" fill="#ffffff" stroke="#a84444" stroke-width="0.9"/>
<circle cx="484.4" cy="350.8" r="1.32" fill="none" stroke="#a84444" stroke-width="0.54"/>
<text x="497.3" y="354.6" font-size="10.6" fill="#141414" textLength="39.4" lengthAdjust="spacingAndGlyphs">1600 nm</text>
</g>
</g>
</svg>
</body>
</html>
